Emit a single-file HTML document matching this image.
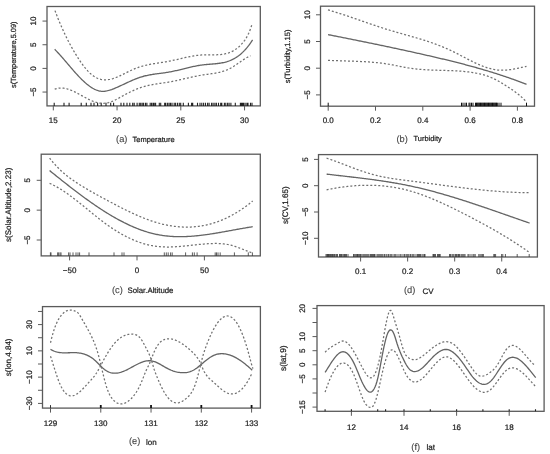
<!DOCTYPE html>
<html><head><meta charset="utf-8"><title>GAM smooth terms</title>
<style>
html,body{margin:0;padding:0;background:#fff;}
body{width:550px;height:454px;overflow:hidden;}
svg{display:block;}
text{font-family:"Liberation Sans",Arial,Helvetica,sans-serif;stroke:#222;stroke-width:0.22px;text-rendering:geometricPrecision;}
text.c{stroke:#444;stroke-width:0.12px;}
</style></head>
<body>
<svg width="550" height="454" viewBox="0 0 550 454">
<rect width="550" height="454" fill="#fff"/>
<rect x="47.00" y="6.50" width="213.30" height="99.40" fill="none" stroke="#5a5a5a" stroke-width="1.30"/>
<line x1="42.50" y1="21.07" x2="47.00" y2="21.07" stroke="#5a5a5a" stroke-width="1"/>
<text x="36.50" y="21.07" transform="rotate(-90 36.50 21.07)" text-anchor="middle" font-size="8.00" fill="#222">10</text>
<line x1="42.50" y1="44.74" x2="47.00" y2="44.74" stroke="#5a5a5a" stroke-width="1"/>
<text x="36.50" y="44.74" transform="rotate(-90 36.50 44.74)" text-anchor="middle" font-size="8.00" fill="#222">5</text>
<line x1="42.50" y1="68.40" x2="47.00" y2="68.40" stroke="#5a5a5a" stroke-width="1"/>
<text x="36.50" y="68.40" transform="rotate(-90 36.50 68.40)" text-anchor="middle" font-size="8.00" fill="#222">0</text>
<line x1="42.50" y1="92.06" x2="47.00" y2="92.06" stroke="#5a5a5a" stroke-width="1"/>
<text x="36.50" y="92.06" transform="rotate(-90 36.50 92.06)" text-anchor="middle" font-size="8.00" fill="#222">&#8722;5</text>
<line x1="53.30" y1="105.90" x2="53.30" y2="110.40" stroke="#5a5a5a" stroke-width="1"/>
<text x="53.30" y="123.20" text-anchor="middle" font-size="8.00" fill="#222">15</text>
<line x1="117.05" y1="105.90" x2="117.05" y2="110.40" stroke="#5a5a5a" stroke-width="1"/>
<text x="117.05" y="123.20" text-anchor="middle" font-size="8.00" fill="#222">20</text>
<line x1="180.80" y1="105.90" x2="180.80" y2="110.40" stroke="#5a5a5a" stroke-width="1"/>
<text x="180.80" y="123.20" text-anchor="middle" font-size="8.00" fill="#222">25</text>
<line x1="244.55" y1="105.90" x2="244.55" y2="110.40" stroke="#5a5a5a" stroke-width="1"/>
<text x="244.55" y="123.20" text-anchor="middle" font-size="8.00" fill="#222">30</text>
<path d="M54.20,102.70v3.20M64.00,102.70v3.20M69.10,102.70v3.20M81.20,102.70v3.20M86.30,102.70v3.20M91.00,102.70v3.20M94.00,102.70v3.20M97.60,102.70v3.20M101.20,102.70v3.20M106.00,102.70v3.20M110.70,102.70v3.20M113.60,102.70v3.20M121.00,102.70v3.20M123.80,102.70v3.20M127.00,102.70v3.20M129.80,102.70v3.20M132.70,102.70v3.20M134.20,102.70v3.20M137.10,102.70v3.20M139.30,102.70v3.20M140.70,102.70v3.20M142.20,102.70v3.20M143.60,102.70v3.20M145.50,102.70v3.20M146.90,102.70v3.20M150.20,102.70v3.20M151.60,102.70v3.20M153.10,102.70v3.20M154.20,102.70v3.20M155.60,102.70v3.20M159.30,102.70v3.20M160.70,102.70v3.20M164.70,102.70v3.20M165.80,102.70v3.20M167.60,102.70v3.20M169.10,102.70v3.20M170.50,102.70v3.20M172.00,102.70v3.20M174.20,102.70v3.20M175.60,102.70v3.20M177.50,102.70v3.20M179.30,102.70v3.20M180.70,102.70v3.20M183.30,102.70v3.20M188.40,102.70v3.20M191.60,102.70v3.20M192.70,102.70v3.20M197.50,102.70v3.20M200.00,102.70v3.20M201.80,102.70v3.20M203.60,102.70v3.20M205.50,102.70v3.20M207.60,102.70v3.20M209.10,102.70v3.20M211.60,102.70v3.20M213.10,102.70v3.20M214.90,102.70v3.20M216.40,102.70v3.20M218.50,102.70v3.20M220.70,102.70v3.20M221.80,102.70v3.20M224.40,102.70v3.20M225.80,102.70v3.20M227.60,102.70v3.20M229.10,102.70v3.20M230.90,102.70v3.20M235.30,102.70v3.20M240.40,102.70v3.20M241.20,102.70v3.20M242.00,102.70v3.20M242.80,102.70v3.20M243.60,102.70v3.20M245.10,102.70v3.20M246.90,102.70v3.20M248.00,102.70v3.20M250.50,102.70v3.20M252.00,102.70v3.20" stroke="#222" stroke-width="1.10" fill="none"/>
<path d="M54.70,49.30 L55.70,50.33 L56.70,51.37 L57.70,52.44 L58.70,53.52 L59.70,54.63 L60.70,55.75 L61.70,56.88 L62.70,58.02 L63.70,59.18 L64.69,60.34 L65.69,61.50 L66.69,62.68 L67.69,63.85 L68.69,65.02 L69.69,66.19 L70.69,67.36 L71.69,68.52 L72.69,69.68 L73.69,70.82 L74.69,71.96 L75.69,73.08 L76.69,74.18 L77.69,75.27 L78.69,76.34 L79.69,77.39 L80.69,78.42 L81.69,79.42 L82.69,80.39 L83.69,81.34 L84.68,82.25 L85.68,83.13 L86.68,83.98 L87.68,84.79 L88.68,85.57 L89.68,86.30 L90.68,86.99 L91.68,87.64 L92.68,88.24 L93.68,88.80 L94.68,89.30 L95.68,89.75 L96.68,90.15 L97.68,90.50 L98.68,90.78 L99.68,91.01 L100.68,91.18 L101.68,91.28 L102.68,91.32 L103.68,91.31 L104.67,91.24 L105.67,91.12 L106.67,90.95 L107.67,90.74 L108.67,90.49 L109.67,90.21 L110.67,89.89 L111.67,89.55 L112.67,89.17 L113.67,88.78 L114.67,88.37 L115.67,87.95 L116.67,87.52 L117.67,87.07 L118.67,86.62 L119.67,86.17 L120.67,85.71 L121.67,85.24 L122.67,84.77 L123.67,84.30 L124.66,83.83 L125.66,83.36 L126.66,82.89 L127.66,82.43 L128.66,81.97 L129.66,81.51 L130.66,81.06 L131.66,80.61 L132.66,80.18 L133.66,79.75 L134.66,79.34 L135.66,78.93 L136.66,78.54 L137.66,78.16 L138.66,77.80 L139.66,77.46 L140.66,77.13 L141.66,76.82 L142.66,76.52 L143.66,76.25 L144.65,75.99 L145.65,75.75 L146.65,75.52 L147.65,75.31 L148.65,75.11 L149.65,74.92 L150.65,74.74 L151.65,74.57 L152.65,74.41 L153.65,74.26 L154.65,74.11 L155.65,73.97 L156.65,73.84 L157.65,73.70 L158.65,73.57 L159.65,73.44 L160.65,73.31 L161.65,73.18 L162.65,73.05 L163.64,72.91 L164.64,72.77 L165.64,72.62 L166.64,72.47 L167.64,72.31 L168.64,72.15 L169.64,71.97 L170.64,71.78 L171.64,71.59 L172.64,71.39 L173.64,71.18 L174.64,70.96 L175.64,70.74 L176.64,70.51 L177.64,70.28 L178.64,70.05 L179.64,69.81 L180.64,69.57 L181.64,69.32 L182.64,69.08 L183.63,68.83 L184.63,68.59 L185.63,68.34 L186.63,68.10 L187.63,67.85 L188.63,67.62 L189.63,67.38 L190.63,67.15 L191.63,66.92 L192.63,66.70 L193.63,66.48 L194.63,66.27 L195.63,66.07 L196.63,65.87 L197.63,65.68 L198.63,65.51 L199.63,65.34 L200.63,65.18 L201.63,65.04 L202.63,64.90 L203.62,64.78 L204.62,64.67 L205.62,64.57 L206.62,64.48 L207.62,64.39 L208.62,64.31 L209.62,64.23 L210.62,64.16 L211.62,64.08 L212.62,64.00 L213.62,63.92 L214.62,63.83 L215.62,63.74 L216.62,63.63 L217.62,63.52 L218.62,63.40 L219.62,63.26 L220.62,63.10 L221.62,62.93 L222.62,62.74 L223.61,62.53 L224.61,62.30 L225.61,62.04 L226.61,61.76 L227.61,61.45 L228.61,61.11 L229.61,60.74 L230.61,60.34 L231.61,59.90 L232.61,59.43 L233.61,58.92 L234.61,58.37 L235.61,57.78 L236.61,57.15 L237.61,56.48 L238.61,55.76 L239.61,54.99 L240.61,54.17 L241.61,53.30 L242.61,52.38 L243.60,51.40 L244.60,50.37 L245.60,49.28 L246.60,48.13 L247.60,46.92 L248.60,45.65 L249.60,44.31 L250.60,42.91 L251.60,41.44 L252.60,39.90" fill="none" stroke="#646464" stroke-width="1.30"/>
<path d="M55.00,10.60 L56.00,13.27 L57.00,15.87 L58.00,18.40 L58.99,20.87 L59.99,23.27 L60.99,25.61 L61.99,27.89 L62.99,30.11 L63.99,32.27 L64.98,34.38 L65.98,36.44 L66.98,38.45 L67.98,40.42 L68.98,42.34 L69.98,44.21 L70.98,46.05 L71.97,47.85 L72.97,49.61 L73.97,51.33 L74.97,53.03 L75.97,54.68 L76.97,56.30 L77.96,57.88 L78.96,59.42 L79.96,60.92 L80.96,62.37 L81.96,63.77 L82.96,65.13 L83.96,66.44 L84.95,67.69 L85.95,68.89 L86.95,70.03 L87.95,71.12 L88.95,72.15 L89.95,73.12 L90.95,74.02 L91.94,74.86 L92.94,75.63 L93.94,76.34 L94.94,76.98 L95.94,77.54 L96.94,78.04 L97.93,78.47 L98.93,78.84 L99.93,79.14 L100.93,79.39 L101.93,79.58 L102.93,79.71 L103.93,79.80 L104.92,79.83 L105.92,79.81 L106.92,79.75 L107.92,79.64 L108.92,79.50 L109.92,79.31 L110.91,79.09 L111.91,78.83 L112.91,78.55 L113.91,78.23 L114.91,77.88 L115.91,77.51 L116.91,77.12 L117.90,76.70 L118.90,76.27 L119.90,75.82 L120.90,75.36 L121.90,74.88 L122.90,74.40 L123.89,73.91 L124.89,73.41 L125.89,72.92 L126.89,72.42 L127.89,71.92 L128.89,71.43 L129.89,70.94 L130.88,70.46 L131.88,70.00 L132.88,69.55 L133.88,69.11 L134.88,68.69 L135.88,68.29 L136.88,67.91 L137.87,67.55 L138.87,67.21 L139.87,66.88 L140.87,66.58 L141.87,66.28 L142.87,66.00 L143.86,65.74 L144.86,65.49 L145.86,65.25 L146.86,65.02 L147.86,64.80 L148.86,64.60 L149.86,64.40 L150.85,64.21 L151.85,64.03 L152.85,63.85 L153.85,63.68 L154.85,63.51 L155.85,63.35 L156.84,63.19 L157.84,63.04 L158.84,62.88 L159.84,62.73 L160.84,62.57 L161.84,62.42 L162.84,62.26 L163.83,62.10 L164.83,61.94 L165.83,61.77 L166.83,61.60 L167.83,61.42 L168.83,61.24 L169.82,61.05 L170.82,60.85 L171.82,60.64 L172.82,60.43 L173.82,60.21 L174.82,59.99 L175.82,59.77 L176.81,59.54 L177.81,59.31 L178.81,59.08 L179.81,58.85 L180.81,58.62 L181.81,58.38 L182.81,58.15 L183.80,57.92 L184.80,57.70 L185.80,57.48 L186.80,57.26 L187.80,57.04 L188.80,56.83 L189.79,56.63 L190.79,56.44 L191.79,56.25 L192.79,56.07 L193.79,55.90 L194.79,55.74 L195.79,55.58 L196.78,55.44 L197.78,55.31 L198.78,55.20 L199.78,55.10 L200.78,55.01 L201.78,54.93 L202.77,54.87 L203.77,54.83 L204.77,54.80 L205.77,54.78 L206.77,54.77 L207.77,54.77 L208.77,54.78 L209.76,54.78 L210.76,54.80 L211.76,54.81 L212.76,54.81 L213.76,54.82 L214.76,54.81 L215.75,54.80 L216.75,54.77 L217.75,54.73 L218.75,54.68 L219.75,54.61 L220.75,54.52 L221.75,54.40 L222.74,54.26 L223.74,54.10 L224.74,53.91 L225.74,53.68 L226.74,53.43 L227.74,53.13 L228.74,52.81 L229.73,52.44 L230.73,52.03 L231.73,51.58 L232.73,51.08 L233.73,50.53 L234.73,49.93 L235.72,49.27 L236.72,48.55 L237.72,47.77 L238.72,46.92 L239.72,46.01 L240.72,45.02 L241.72,43.95 L242.71,42.81 L243.71,41.59 L244.71,40.26 L245.71,38.81 L246.71,37.18 L247.71,35.36 L248.70,33.29 L249.70,30.94 L250.70,28.28 L251.70,25.26" fill="none" stroke="#707070" stroke-width="1.25" stroke-dasharray="2 2"/>
<path d="M54.70,89.20 L55.70,88.84 L56.70,88.55 L57.70,88.32 L58.70,88.15 L59.69,88.05 L60.69,88.00 L61.69,88.01 L62.69,88.06 L63.69,88.17 L64.69,88.32 L65.69,88.52 L66.69,88.76 L67.69,89.04 L68.69,89.35 L69.68,89.70 L70.68,90.08 L71.68,90.49 L72.68,90.93 L73.68,91.39 L74.68,91.86 L75.68,92.36 L76.68,92.87 L77.68,93.40 L78.68,93.94 L79.67,94.48 L80.67,95.03 L81.67,95.59 L82.67,96.14 L83.67,96.69 L84.67,97.24 L85.67,97.78 L86.67,98.31 L87.67,98.82 L88.67,99.32 L89.66,99.81 L90.66,100.27 L91.66,100.71 L92.66,101.12 L93.66,101.51 L94.66,101.86 L95.66,102.19 L96.66,102.47 L97.66,102.72 L98.66,102.93 L99.65,103.09 L100.65,103.21 L101.65,103.28 L102.65,103.30 L103.65,103.29 L104.65,103.22 L105.65,103.12 L106.65,102.97 L107.65,102.77 L108.64,102.54 L109.64,102.26 L110.64,101.93 L111.64,101.57 L112.64,101.17 L113.64,100.73 L114.64,100.27 L115.64,99.78 L116.64,99.26 L117.64,98.73 L118.63,98.19 L119.63,97.64 L120.63,97.08 L121.63,96.52 L122.63,95.96 L123.63,95.41 L124.63,94.87 L125.63,94.33 L126.63,93.80 L127.63,93.28 L128.62,92.77 L129.62,92.27 L130.62,91.78 L131.62,91.30 L132.62,90.83 L133.62,90.37 L134.62,89.93 L135.62,89.50 L136.62,89.09 L137.62,88.69 L138.61,88.31 L139.61,87.94 L140.61,87.59 L141.61,87.26 L142.61,86.95 L143.61,86.65 L144.61,86.37 L145.61,86.11 L146.61,85.85 L147.61,85.62 L148.60,85.39 L149.60,85.18 L150.60,84.98 L151.60,84.78 L152.60,84.60 L153.60,84.42 L154.60,84.26 L155.60,84.09 L156.60,83.93 L157.59,83.78 L158.59,83.63 L159.59,83.48 L160.59,83.34 L161.59,83.19 L162.59,83.04 L163.59,82.90 L164.59,82.75 L165.59,82.59 L166.59,82.44 L167.58,82.27 L168.58,82.11 L169.58,81.93 L170.58,81.75 L171.58,81.56 L172.58,81.36 L173.58,81.16 L174.58,80.96 L175.58,80.75 L176.58,80.53 L177.57,80.32 L178.57,80.09 L179.57,79.87 L180.57,79.64 L181.57,79.41 L182.57,79.18 L183.57,78.95 L184.57,78.72 L185.57,78.49 L186.57,78.26 L187.56,78.03 L188.56,77.80 L189.56,77.57 L190.56,77.34 L191.56,77.12 L192.56,76.90 L193.56,76.69 L194.56,76.47 L195.56,76.27 L196.56,76.06 L197.55,75.87 L198.55,75.68 L199.55,75.49 L200.55,75.32 L201.55,75.14 L202.55,74.98 L203.55,74.83 L204.55,74.68 L205.55,74.54 L206.54,74.40 L207.54,74.27 L208.54,74.14 L209.54,74.00 L210.54,73.87 L211.54,73.73 L212.54,73.58 L213.54,73.43 L214.54,73.27 L215.54,73.10 L216.53,72.92 L217.53,72.72 L218.53,72.51 L219.53,72.28 L220.53,72.03 L221.53,71.76 L222.53,71.47 L223.53,71.16 L224.53,70.82 L225.53,70.46 L226.52,70.07 L227.52,69.65 L228.52,69.19 L229.52,68.71 L230.52,68.18 L231.52,67.63 L232.52,67.04 L233.52,66.42 L234.52,65.77 L235.52,65.11 L236.51,64.43 L237.51,63.74 L238.51,63.05 L239.51,62.35 L240.51,61.66 L241.51,60.97 L242.51,60.29 L243.51,59.63 L244.51,58.99 L245.51,58.37 L246.50,57.78 L247.50,57.23 L248.50,56.71 L249.50,56.23 L250.50,55.80" fill="none" stroke="#707070" stroke-width="1.25" stroke-dasharray="2 2"/>
<text x="16.20" y="54.80" transform="rotate(-90 16.20 54.80)" text-anchor="middle" font-size="7.40" fill="#222">s(Temperature,5.09)</text>
<text class="c" x="116.10" y="141.60" font-size="9.30" fill="#444">(a)</text>
<text x="132.50" y="141.80" font-size="7.50" fill="#222">Temperature</text>
<rect x="320.50" y="6.20" width="214.00" height="100.00" fill="none" stroke="#5a5a5a" stroke-width="1.30"/>
<line x1="316.00" y1="14.80" x2="320.50" y2="14.80" stroke="#5a5a5a" stroke-width="1"/>
<text x="310.00" y="14.80" transform="rotate(-90 310.00 14.80)" text-anchor="middle" font-size="8.00" fill="#222">10</text>
<line x1="316.00" y1="41.50" x2="320.50" y2="41.50" stroke="#5a5a5a" stroke-width="1"/>
<text x="310.00" y="41.50" transform="rotate(-90 310.00 41.50)" text-anchor="middle" font-size="8.00" fill="#222">5</text>
<line x1="316.00" y1="68.20" x2="320.50" y2="68.20" stroke="#5a5a5a" stroke-width="1"/>
<text x="310.00" y="68.20" transform="rotate(-90 310.00 68.20)" text-anchor="middle" font-size="8.00" fill="#222">0</text>
<line x1="316.00" y1="94.90" x2="320.50" y2="94.90" stroke="#5a5a5a" stroke-width="1"/>
<text x="310.00" y="94.90" transform="rotate(-90 310.00 94.90)" text-anchor="middle" font-size="8.00" fill="#222">&#8722;5</text>
<line x1="328.20" y1="106.20" x2="328.20" y2="110.70" stroke="#5a5a5a" stroke-width="1"/>
<text x="328.20" y="123.20" text-anchor="middle" font-size="8.00" fill="#222">0.0</text>
<line x1="375.50" y1="106.20" x2="375.50" y2="110.70" stroke="#5a5a5a" stroke-width="1"/>
<text x="375.50" y="123.20" text-anchor="middle" font-size="8.00" fill="#222">0.2</text>
<line x1="422.80" y1="106.20" x2="422.80" y2="110.70" stroke="#5a5a5a" stroke-width="1"/>
<text x="422.80" y="123.20" text-anchor="middle" font-size="8.00" fill="#222">0.4</text>
<line x1="470.10" y1="106.20" x2="470.10" y2="110.70" stroke="#5a5a5a" stroke-width="1"/>
<text x="470.10" y="123.20" text-anchor="middle" font-size="8.00" fill="#222">0.6</text>
<line x1="517.40" y1="106.20" x2="517.40" y2="110.70" stroke="#5a5a5a" stroke-width="1"/>
<text x="517.40" y="123.20" text-anchor="middle" font-size="8.00" fill="#222">0.8</text>
<path d="M328.20,102.70v3.50M461.50,102.70v3.50M463.00,102.70v3.50M465.00,102.70v3.50M466.50,102.70v3.50M469.00,102.70v3.50M470.00,102.70v3.50M471.50,102.70v3.50M473.00,102.70v3.50M475.50,102.70v3.50M476.50,102.70v3.50M477.30,102.70v3.50M478.10,102.70v3.50M478.90,102.70v3.50M479.70,102.70v3.50M480.50,102.70v3.50M481.30,102.70v3.50M482.10,102.70v3.50M482.90,102.70v3.50M483.70,102.70v3.50M484.50,102.70v3.50M485.30,102.70v3.50M486.10,102.70v3.50M486.90,102.70v3.50M487.70,102.70v3.50M488.50,102.70v3.50M489.30,102.70v3.50M490.10,102.70v3.50M490.90,102.70v3.50M491.70,102.70v3.50M492.50,102.70v3.50M493.30,102.70v3.50M494.10,102.70v3.50M494.90,102.70v3.50M495.70,102.70v3.50M496.50,102.70v3.50M497.30,102.70v3.50M499.00,102.70v3.50M501.00,102.70v3.50M526.50,102.70v3.50" stroke="#111" stroke-width="1.00" fill="none"/>
<path d="M328.00,34.61 L329.00,34.80 L329.99,35.00 L330.99,35.20 L331.99,35.40 L332.99,35.59 L333.98,35.79 L334.98,35.99 L335.98,36.19 L336.98,36.38 L337.97,36.58 L338.97,36.78 L339.97,36.98 L340.97,37.18 L341.96,37.38 L342.96,37.58 L343.96,37.78 L344.96,37.98 L345.95,38.17 L346.95,38.37 L347.95,38.57 L348.95,38.77 L349.94,38.97 L350.94,39.18 L351.94,39.38 L352.94,39.58 L353.93,39.78 L354.93,39.98 L355.93,40.18 L356.93,40.38 L357.92,40.58 L358.92,40.79 L359.92,40.99 L360.92,41.19 L361.91,41.39 L362.91,41.60 L363.91,41.80 L364.91,42.00 L365.90,42.21 L366.90,42.41 L367.90,42.62 L368.90,42.82 L369.89,43.03 L370.89,43.23 L371.89,43.44 L372.89,43.64 L373.88,43.85 L374.88,44.05 L375.88,44.26 L376.88,44.47 L377.87,44.67 L378.87,44.88 L379.87,45.09 L380.87,45.30 L381.86,45.51 L382.86,45.71 L383.86,45.92 L384.86,46.13 L385.85,46.34 L386.85,46.55 L387.85,46.76 L388.85,46.97 L389.84,47.19 L390.84,47.40 L391.84,47.61 L392.84,47.82 L393.83,48.03 L394.83,48.25 L395.83,48.46 L396.83,48.67 L397.82,48.89 L398.82,49.10 L399.82,49.32 L400.82,49.53 L401.81,49.75 L402.81,49.96 L403.81,50.18 L404.81,50.40 L405.80,50.61 L406.80,50.83 L407.80,51.05 L408.80,51.27 L409.79,51.49 L410.79,51.71 L411.79,51.93 L412.79,52.15 L413.78,52.37 L414.78,52.59 L415.78,52.81 L416.78,53.03 L417.77,53.26 L418.77,53.48 L419.77,53.70 L420.77,53.93 L421.76,54.15 L422.76,54.38 L423.76,54.60 L424.76,54.83 L425.75,55.06 L426.75,55.28 L427.75,55.51 L428.75,55.74 L429.74,55.97 L430.74,56.20 L431.74,56.43 L432.74,56.66 L433.73,56.89 L434.73,57.12 L435.73,57.35 L436.73,57.59 L437.72,57.82 L438.72,58.06 L439.72,58.29 L440.72,58.53 L441.71,58.76 L442.71,59.00 L443.71,59.24 L444.71,59.48 L445.70,59.72 L446.70,59.96 L447.70,60.20 L448.70,60.45 L449.69,60.69 L450.69,60.94 L451.69,61.18 L452.69,61.43 L453.68,61.68 L454.68,61.93 L455.68,62.18 L456.68,62.43 L457.67,62.69 L458.67,62.94 L459.67,63.20 L460.67,63.45 L461.66,63.71 L462.66,63.97 L463.66,64.23 L464.66,64.49 L465.65,64.76 L466.65,65.02 L467.65,65.29 L468.65,65.56 L469.64,65.83 L470.64,66.10 L471.64,66.37 L472.64,66.64 L473.63,66.92 L474.63,67.19 L475.63,67.47 L476.63,67.75 L477.62,68.04 L478.62,68.32 L479.62,68.60 L480.62,68.89 L481.61,69.18 L482.61,69.47 L483.61,69.76 L484.61,70.06 L485.60,70.35 L486.60,70.65 L487.60,70.95 L488.60,71.25 L489.59,71.56 L490.59,71.86 L491.59,72.17 L492.59,72.48 L493.58,72.79 L494.58,73.10 L495.58,73.42 L496.58,73.74 L497.57,74.06 L498.57,74.38 L499.57,74.70 L500.57,75.03 L501.56,75.36 L502.56,75.69 L503.56,76.02 L504.56,76.36 L505.55,76.69 L506.55,77.03 L507.55,77.37 L508.55,77.72 L509.54,78.07 L510.54,78.42 L511.54,78.77 L512.54,79.12 L513.53,79.48 L514.53,79.84 L515.53,80.20 L516.53,80.56 L517.52,80.93 L518.52,81.30 L519.52,81.67 L520.52,82.05 L521.51,82.43 L522.51,82.81 L523.51,83.19 L524.51,83.57 L525.50,83.96 L526.50,84.35" fill="none" stroke="#646464" stroke-width="1.30"/>
<path d="M328.00,9.88 L329.00,10.17 L329.99,10.46 L330.99,10.76 L331.99,11.05 L332.99,11.36 L333.98,11.66 L334.98,11.97 L335.98,12.28 L336.98,12.59 L337.97,12.91 L338.97,13.23 L339.97,13.55 L340.97,13.87 L341.96,14.20 L342.96,14.53 L343.96,14.86 L344.96,15.19 L345.95,15.52 L346.95,15.86 L347.95,16.19 L348.95,16.53 L349.94,16.87 L350.94,17.21 L351.94,17.55 L352.94,17.89 L353.93,18.24 L354.93,18.58 L355.93,18.93 L356.93,19.27 L357.92,19.62 L358.92,19.96 L359.92,20.31 L360.92,20.66 L361.91,21.00 L362.91,21.35 L363.91,21.70 L364.91,22.04 L365.90,22.39 L366.90,22.73 L367.90,23.08 L368.90,23.42 L369.89,23.76 L370.89,24.11 L371.89,24.45 L372.89,24.79 L373.88,25.12 L374.88,25.46 L375.88,25.80 L376.88,26.13 L377.87,26.46 L378.87,26.79 L379.87,27.12 L380.87,27.44 L381.86,27.77 L382.86,28.09 L383.86,28.41 L384.86,28.72 L385.85,29.04 L386.85,29.35 L387.85,29.66 L388.85,29.96 L389.84,30.26 L390.84,30.56 L391.84,30.86 L392.84,31.16 L393.83,31.45 L394.83,31.74 L395.83,32.03 L396.83,32.32 L397.82,32.60 L398.82,32.89 L399.82,33.17 L400.82,33.45 L401.81,33.74 L402.81,34.02 L403.81,34.30 L404.81,34.58 L405.80,34.86 L406.80,35.14 L407.80,35.43 L408.80,35.71 L409.79,35.99 L410.79,36.27 L411.79,36.56 L412.79,36.85 L413.78,37.13 L414.78,37.42 L415.78,37.71 L416.78,38.01 L417.77,38.30 L418.77,38.60 L419.77,38.90 L420.77,39.20 L421.76,39.51 L422.76,39.82 L423.76,40.13 L424.76,40.45 L425.75,40.77 L426.75,41.09 L427.75,41.41 L428.75,41.75 L429.74,42.08 L430.74,42.42 L431.74,42.76 L432.74,43.11 L433.73,43.47 L434.73,43.83 L435.73,44.19 L436.73,44.56 L437.72,44.94 L438.72,45.32 L439.72,45.71 L440.72,46.10 L441.71,46.50 L442.71,46.91 L443.71,47.32 L444.71,47.74 L445.70,48.17 L446.70,48.60 L447.70,49.05 L448.70,49.50 L449.69,49.96 L450.69,50.42 L451.69,50.90 L452.69,51.38 L453.68,51.87 L454.68,52.36 L455.68,52.87 L456.68,53.37 L457.67,53.89 L458.67,54.40 L459.67,54.92 L460.67,55.44 L461.66,55.97 L462.66,56.49 L463.66,57.01 L464.66,57.54 L465.65,58.06 L466.65,58.58 L467.65,59.10 L468.65,59.62 L469.64,60.13 L470.64,60.63 L471.64,61.14 L472.64,61.63 L473.63,62.12 L474.63,62.60 L475.63,63.07 L476.63,63.54 L477.62,63.99 L478.62,64.44 L479.62,64.87 L480.62,65.29 L481.61,65.70 L482.61,66.10 L483.61,66.48 L484.61,66.85 L485.60,67.20 L486.60,67.54 L487.60,67.86 L488.60,68.17 L489.59,68.45 L490.59,68.72 L491.59,68.97 L492.59,69.19 L493.58,69.40 L494.58,69.59 L495.58,69.75 L496.58,69.89 L497.57,70.01 L498.57,70.10 L499.57,70.17 L500.57,70.21 L501.56,70.23 L502.56,70.24 L503.56,70.22 L504.56,70.18 L505.55,70.12 L506.55,70.05 L507.55,69.96 L508.55,69.85 L509.54,69.73 L510.54,69.60 L511.54,69.45 L512.54,69.29 L513.53,69.12 L514.53,68.94 L515.53,68.75 L516.53,68.55 L517.52,68.34 L518.52,68.13 L519.52,67.91 L520.52,67.69 L521.51,67.47 L522.51,67.24 L523.51,67.01 L524.51,66.78 L525.50,66.55 L526.50,66.32" fill="none" stroke="#707070" stroke-width="1.25" stroke-dasharray="2 2"/>
<path d="M328.00,60.30 L329.00,60.35 L330.00,60.41 L330.99,60.45 L331.99,60.50 L332.99,60.55 L333.99,60.59 L334.99,60.63 L335.98,60.67 L336.98,60.71 L337.98,60.74 L338.98,60.78 L339.98,60.81 L340.97,60.84 L341.97,60.87 L342.97,60.91 L343.97,60.94 L344.97,60.97 L345.96,61.00 L346.96,61.02 L347.96,61.05 L348.96,61.08 L349.96,61.11 L350.95,61.15 L351.95,61.18 L352.95,61.21 L353.95,61.24 L354.95,61.28 L355.94,61.31 L356.94,61.35 L357.94,61.39 L358.94,61.43 L359.94,61.47 L360.93,61.52 L361.93,61.56 L362.93,61.61 L363.93,61.66 L364.93,61.72 L365.92,61.78 L366.92,61.84 L367.92,61.90 L368.92,61.97 L369.92,62.04 L370.91,62.11 L371.91,62.19 L372.91,62.27 L373.91,62.36 L374.91,62.45 L375.90,62.54 L376.90,62.64 L377.90,62.75 L378.90,62.86 L379.89,62.97 L380.89,63.09 L381.89,63.21 L382.89,63.34 L383.89,63.48 L384.88,63.62 L385.88,63.77 L386.88,63.92 L387.88,64.08 L388.88,64.25 L389.87,64.42 L390.87,64.60 L391.87,64.78 L392.87,64.97 L393.87,65.16 L394.86,65.35 L395.86,65.54 L396.86,65.74 L397.86,65.94 L398.86,66.14 L399.85,66.33 L400.85,66.53 L401.85,66.72 L402.85,66.92 L403.85,67.11 L404.84,67.29 L405.84,67.48 L406.84,67.66 L407.84,67.83 L408.84,68.00 L409.83,68.16 L410.83,68.31 L411.83,68.46 L412.83,68.59 L413.83,68.72 L414.82,68.85 L415.82,68.96 L416.82,69.07 L417.82,69.17 L418.82,69.27 L419.81,69.36 L420.81,69.45 L421.81,69.53 L422.81,69.60 L423.81,69.67 L424.80,69.73 L425.80,69.79 L426.80,69.85 L427.80,69.90 L428.80,69.95 L429.79,70.00 L430.79,70.04 L431.79,70.08 L432.79,70.11 L433.79,70.15 L434.78,70.18 L435.78,70.21 L436.78,70.24 L437.78,70.27 L438.78,70.30 L439.77,70.32 L440.77,70.35 L441.77,70.37 L442.77,70.40 L443.77,70.43 L444.76,70.45 L445.76,70.48 L446.76,70.51 L447.76,70.54 L448.76,70.57 L449.75,70.61 L450.75,70.64 L451.75,70.68 L452.75,70.73 L453.75,70.77 L454.74,70.82 L455.74,70.87 L456.74,70.93 L457.74,70.99 L458.74,71.05 L459.73,71.12 L460.73,71.19 L461.73,71.27 L462.73,71.35 L463.73,71.44 L464.72,71.54 L465.72,71.64 L466.72,71.75 L467.72,71.87 L468.72,71.99 L469.71,72.12 L470.71,72.25 L471.71,72.40 L472.71,72.55 L473.71,72.71 L474.70,72.88 L475.70,73.06 L476.70,73.25 L477.70,73.45 L478.69,73.66 L479.69,73.88 L480.69,74.12 L481.69,74.37 L482.69,74.63 L483.68,74.90 L484.68,75.19 L485.68,75.50 L486.68,75.83 L487.68,76.17 L488.67,76.53 L489.67,76.91 L490.67,77.31 L491.67,77.73 L492.67,78.17 L493.66,78.63 L494.66,79.12 L495.66,79.62 L496.66,80.15 L497.66,80.69 L498.65,81.25 L499.65,81.83 L500.65,82.42 L501.65,83.02 L502.65,83.63 L503.64,84.25 L504.64,84.87 L505.64,85.50 L506.64,86.13 L507.64,86.77 L508.63,87.41 L509.63,88.06 L510.63,88.71 L511.63,89.38 L512.63,90.07 L513.62,90.76 L514.62,91.48 L515.62,92.21 L516.62,92.97 L517.62,93.74 L518.61,94.55 L519.61,95.38 L520.61,96.23 L521.61,97.12 L522.61,98.04 L523.60,99.00 L524.60,99.99 L525.60,101.03" fill="none" stroke="#707070" stroke-width="1.25" stroke-dasharray="2 2"/>
<text x="289.80" y="56.40" transform="rotate(-90 289.80 56.40)" text-anchor="middle" font-size="7.55" fill="#222">s(Turbidity,1.15)</text>
<text class="c" x="396.50" y="142.30" font-size="9.30" fill="#444">(b)</text>
<text x="413.60" y="141.40" font-size="7.40" fill="#222">Turbidity</text>
<rect x="41.20" y="154.20" width="219.10" height="101.70" fill="none" stroke="#5a5a5a" stroke-width="1.30"/>
<line x1="36.70" y1="180.30" x2="41.20" y2="180.30" stroke="#5a5a5a" stroke-width="1"/>
<text x="30.30" y="180.30" transform="rotate(-90 30.30 180.30)" text-anchor="middle" font-size="8.00" fill="#222">5</text>
<line x1="36.70" y1="210.15" x2="41.20" y2="210.15" stroke="#5a5a5a" stroke-width="1"/>
<text x="30.30" y="210.15" transform="rotate(-90 30.30 210.15)" text-anchor="middle" font-size="8.00" fill="#222">0</text>
<line x1="36.70" y1="240.00" x2="41.20" y2="240.00" stroke="#5a5a5a" stroke-width="1"/>
<text x="30.30" y="240.00" transform="rotate(-90 30.30 240.00)" text-anchor="middle" font-size="8.00" fill="#222">&#8722;5</text>
<line x1="69.60" y1="255.90" x2="69.60" y2="260.40" stroke="#5a5a5a" stroke-width="1"/>
<text x="69.60" y="273.20" text-anchor="middle" font-size="8.00" fill="#222">&#8722;50</text>
<line x1="137.00" y1="255.90" x2="137.00" y2="260.40" stroke="#5a5a5a" stroke-width="1"/>
<text x="137.00" y="273.20" text-anchor="middle" font-size="8.00" fill="#222">0</text>
<line x1="204.40" y1="255.90" x2="204.40" y2="260.40" stroke="#5a5a5a" stroke-width="1"/>
<text x="204.40" y="273.20" text-anchor="middle" font-size="8.00" fill="#222">50</text>
<path d="M50.40,252.40v3.50M51.00,252.40v3.50M57.60,252.40v3.50M58.60,252.40v3.50M60.00,252.40v3.50M61.00,252.40v3.50M68.60,252.40v3.50M70.00,252.40v3.50M73.00,252.40v3.50M76.00,252.40v3.50M78.00,252.40v3.50M79.60,252.40v3.50M89.00,252.40v3.50M114.00,252.40v3.50M122.00,252.40v3.50M124.00,252.40v3.50M164.30,252.40v3.50M166.30,252.40v3.50M168.20,252.40v3.50M170.60,252.40v3.50M172.20,252.40v3.50M185.60,252.40v3.50M192.40,252.40v3.50M194.30,252.40v3.50M197.10,252.40v3.50M215.20,252.40v3.50M216.50,252.40v3.50M218.00,252.40v3.50M220.20,252.40v3.50M234.40,252.40v3.50M248.30,252.40v3.50M252.40,252.40v3.50" stroke="#333" stroke-width="0.80" fill="none"/>
<path d="M49.60,170.57 L50.60,171.37 L51.59,172.18 L52.59,172.98 L53.58,173.78 L54.58,174.58 L55.57,175.38 L56.57,176.18 L57.56,176.98 L58.56,177.78 L59.56,178.57 L60.55,179.36 L61.55,180.16 L62.54,180.95 L63.54,181.73 L64.53,182.52 L65.53,183.30 L66.53,184.09 L67.52,184.87 L68.52,185.64 L69.51,186.42 L70.51,187.19 L71.50,187.96 L72.50,188.73 L73.49,189.50 L74.49,190.26 L75.49,191.02 L76.48,191.77 L77.48,192.53 L78.47,193.28 L79.47,194.02 L80.46,194.77 L81.46,195.51 L82.45,196.24 L83.45,196.97 L84.45,197.70 L85.44,198.43 L86.44,199.15 L87.43,199.86 L88.43,200.58 L89.42,201.29 L90.42,201.99 L91.41,202.69 L92.41,203.39 L93.41,204.08 L94.40,204.76 L95.40,205.44 L96.39,206.12 L97.39,206.79 L98.38,207.46 L99.38,208.12 L100.38,208.77 L101.37,209.43 L102.37,210.07 L103.36,210.71 L104.36,211.34 L105.35,211.97 L106.35,212.60 L107.34,213.21 L108.34,213.82 L109.34,214.43 L110.33,215.03 L111.33,215.62 L112.32,216.20 L113.32,216.78 L114.31,217.36 L115.31,217.92 L116.30,218.48 L117.30,219.04 L118.30,219.58 L119.29,220.12 L120.29,220.65 L121.28,221.18 L122.28,221.69 L123.27,222.20 L124.27,222.71 L125.26,223.20 L126.26,223.69 L127.26,224.17 L128.25,224.64 L129.25,225.11 L130.24,225.56 L131.24,226.01 L132.23,226.45 L133.23,226.88 L134.22,227.30 L135.22,227.72 L136.22,228.12 L137.21,228.52 L138.21,228.91 L139.20,229.29 L140.20,229.66 L141.19,230.02 L142.19,230.37 L143.19,230.72 L144.18,231.05 L145.18,231.38 L146.17,231.69 L147.17,232.00 L148.16,232.29 L149.16,232.58 L150.15,232.85 L151.15,233.12 L152.15,233.38 L153.14,233.62 L154.14,233.86 L155.13,234.09 L156.13,234.30 L157.12,234.51 L158.12,234.70 L159.11,234.88 L160.11,235.06 L161.11,235.22 L162.10,235.38 L163.10,235.52 L164.09,235.66 L165.09,235.79 L166.08,235.91 L167.08,236.01 L168.08,236.11 L169.07,236.20 L170.07,236.29 L171.06,236.36 L172.06,236.43 L173.05,236.48 L174.05,236.53 L175.04,236.58 L176.04,236.61 L177.04,236.64 L178.03,236.66 L179.03,236.67 L180.02,236.67 L181.02,236.67 L182.01,236.66 L183.01,236.64 L184.00,236.62 L185.00,236.59 L186.00,236.55 L186.99,236.51 L187.99,236.46 L188.98,236.41 L189.98,236.35 L190.97,236.28 L191.97,236.21 L192.96,236.13 L193.96,236.05 L194.96,235.96 L195.95,235.87 L196.95,235.77 L197.94,235.67 L198.94,235.56 L199.93,235.45 L200.93,235.33 L201.92,235.22 L202.92,235.09 L203.92,234.96 L204.91,234.83 L205.91,234.70 L206.90,234.56 L207.90,234.41 L208.89,234.27 L209.89,234.12 L210.89,233.97 L211.88,233.81 L212.88,233.66 L213.87,233.50 L214.87,233.34 L215.86,233.17 L216.86,233.00 L217.85,232.84 L218.85,232.66 L219.85,232.49 L220.84,232.32 L221.84,232.14 L222.83,231.97 L223.83,231.79 L224.82,231.61 L225.82,231.43 L226.81,231.25 L227.81,231.07 L228.81,230.89 L229.80,230.70 L230.80,230.52 L231.79,230.34 L232.79,230.16 L233.78,229.97 L234.78,229.79 L235.78,229.61 L236.77,229.43 L237.77,229.25 L238.76,229.07 L239.76,228.89 L240.75,228.71 L241.75,228.54 L242.74,228.36 L243.74,228.19 L244.74,228.02 L245.73,227.85 L246.73,227.68 L247.72,227.51 L248.72,227.35 L249.71,227.19 L250.71,227.03 L251.70,226.87 L252.70,226.72" fill="none" stroke="#646464" stroke-width="1.30"/>
<path d="M49.60,158.09 L50.60,159.37 L51.59,160.60 L52.59,161.80 L53.58,162.97 L54.58,164.10 L55.57,165.20 L56.57,166.27 L57.56,167.31 L58.56,168.31 L59.56,169.29 L60.55,170.25 L61.55,171.17 L62.54,172.07 L63.54,172.95 L64.53,173.80 L65.53,174.63 L66.53,175.44 L67.52,176.23 L68.52,177.00 L69.51,177.75 L70.51,178.49 L71.50,179.21 L72.50,179.92 L73.49,180.61 L74.49,181.29 L75.49,181.96 L76.48,182.61 L77.48,183.26 L78.47,183.90 L79.47,184.54 L80.46,185.16 L81.46,185.78 L82.45,186.40 L83.45,187.00 L84.45,187.61 L85.44,188.20 L86.44,188.80 L87.43,189.38 L88.43,189.96 L89.42,190.54 L90.42,191.12 L91.41,191.68 L92.41,192.25 L93.41,192.81 L94.40,193.37 L95.40,193.92 L96.39,194.48 L97.39,195.02 L98.38,195.57 L99.38,196.11 L100.38,196.66 L101.37,197.20 L102.37,197.73 L103.36,198.27 L104.36,198.81 L105.35,199.34 L106.35,199.87 L107.34,200.41 L108.34,200.94 L109.34,201.47 L110.33,202.00 L111.33,202.53 L112.32,203.06 L113.32,203.58 L114.31,204.11 L115.31,204.63 L116.30,205.15 L117.30,205.67 L118.30,206.19 L119.29,206.70 L120.29,207.21 L121.28,207.72 L122.28,208.23 L123.27,208.73 L124.27,209.23 L125.26,209.72 L126.26,210.21 L127.26,210.70 L128.25,211.18 L129.25,211.66 L130.24,212.14 L131.24,212.61 L132.23,213.07 L133.23,213.53 L134.22,213.99 L135.22,214.44 L136.22,214.88 L137.21,215.32 L138.21,215.76 L139.20,216.19 L140.20,216.61 L141.19,217.02 L142.19,217.43 L143.19,217.84 L144.18,218.23 L145.18,218.62 L146.17,219.00 L147.17,219.38 L148.16,219.75 L149.16,220.10 L150.15,220.46 L151.15,220.80 L152.15,221.14 L153.14,221.47 L154.14,221.79 L155.13,222.10 L156.13,222.40 L157.12,222.69 L158.12,222.98 L159.11,223.25 L160.11,223.52 L161.11,223.78 L162.10,224.03 L163.10,224.27 L164.09,224.50 L165.09,224.72 L166.08,224.93 L167.08,225.13 L168.08,225.32 L169.07,225.51 L170.07,225.68 L171.06,225.84 L172.06,226.00 L173.05,226.14 L174.05,226.28 L175.04,226.40 L176.04,226.52 L177.04,226.62 L178.03,226.72 L179.03,226.80 L180.02,226.87 L181.02,226.94 L182.01,226.99 L183.01,227.04 L184.00,227.07 L185.00,227.09 L186.00,227.11 L186.99,227.11 L187.99,227.10 L188.98,227.08 L189.98,227.05 L190.97,227.01 L191.97,226.96 L192.96,226.89 L193.96,226.82 L194.96,226.74 L195.95,226.64 L196.95,226.53 L197.94,226.41 L198.94,226.28 L199.93,226.14 L200.93,225.99 L201.92,225.83 L202.92,225.65 L203.92,225.47 L204.91,225.27 L205.91,225.06 L206.90,224.84 L207.90,224.60 L208.89,224.36 L209.89,224.10 L210.89,223.83 L211.88,223.55 L212.88,223.26 L213.87,222.95 L214.87,222.64 L215.86,222.31 L216.86,221.96 L217.85,221.61 L218.85,221.24 L219.85,220.86 L220.84,220.47 L221.84,220.07 L222.83,219.65 L223.83,219.22 L224.82,218.78 L225.82,218.32 L226.81,217.86 L227.81,217.37 L228.81,216.88 L229.80,216.37 L230.80,215.85 L231.79,215.32 L232.79,214.77 L233.78,214.21 L234.78,213.64 L235.78,213.05 L236.77,212.45 L237.77,211.84 L238.76,211.21 L239.76,210.57 L240.75,209.92 L241.75,209.25 L242.74,208.57 L243.74,207.87 L244.74,207.16 L245.73,206.44 L246.73,205.70 L247.72,204.95 L248.72,204.18 L249.71,203.40 L250.71,202.61 L251.70,201.80 L252.70,200.98" fill="none" stroke="#707070" stroke-width="1.25" stroke-dasharray="2 2"/>
<path d="M49.60,183.32 L50.60,183.76 L51.59,184.22 L52.59,184.70 L53.58,185.20 L54.58,185.71 L55.57,186.25 L56.57,186.80 L57.56,187.36 L58.56,187.94 L59.56,188.54 L60.55,189.15 L61.55,189.78 L62.54,190.42 L63.54,191.07 L64.53,191.74 L65.53,192.42 L66.53,193.11 L67.52,193.81 L68.52,194.52 L69.51,195.24 L70.51,195.97 L71.50,196.71 L72.50,197.46 L73.49,198.22 L74.49,198.98 L75.49,199.75 L76.48,200.53 L77.48,201.31 L78.47,202.10 L79.47,202.90 L80.46,203.69 L81.46,204.49 L82.45,205.30 L83.45,206.11 L84.45,206.92 L85.44,207.73 L86.44,208.54 L87.43,209.36 L88.43,210.17 L89.42,210.98 L90.42,211.80 L91.41,212.61 L92.41,213.42 L93.41,214.22 L94.40,215.03 L95.40,215.83 L96.39,216.62 L97.39,217.41 L98.38,218.20 L99.38,218.98 L100.38,219.75 L101.37,220.52 L102.37,221.28 L103.36,222.03 L104.36,222.78 L105.35,223.52 L106.35,224.24 L107.34,224.96 L108.34,225.66 L109.34,226.36 L110.33,227.05 L111.33,227.72 L112.32,228.39 L113.32,229.04 L114.31,229.69 L115.31,230.32 L116.30,230.95 L117.30,231.56 L118.30,232.16 L119.29,232.75 L120.29,233.33 L121.28,233.90 L122.28,234.46 L123.27,235.01 L124.27,235.55 L125.26,236.07 L126.26,236.58 L127.26,237.09 L128.25,237.58 L129.25,238.05 L130.24,238.52 L131.24,238.98 L132.23,239.42 L133.23,239.85 L134.22,240.27 L135.22,240.68 L136.22,241.07 L137.21,241.46 L138.21,241.83 L139.20,242.19 L140.20,242.53 L141.19,242.87 L142.19,243.19 L143.19,243.50 L144.18,243.79 L145.18,244.07 L146.17,244.34 L147.17,244.60 L148.16,244.85 L149.16,245.08 L150.15,245.29 L151.15,245.50 L152.15,245.69 L153.14,245.87 L154.14,246.03 L155.13,246.18 L156.13,246.32 L157.12,246.44 L158.12,246.55 L159.11,246.65 L160.11,246.73 L161.11,246.81 L162.10,246.87 L163.10,246.92 L164.09,246.96 L165.09,246.99 L166.08,247.01 L167.08,247.02 L168.08,247.02 L169.07,247.01 L170.07,246.99 L171.06,246.97 L172.06,246.94 L173.05,246.90 L174.05,246.85 L175.04,246.79 L176.04,246.73 L177.04,246.67 L178.03,246.60 L179.03,246.52 L180.02,246.44 L181.02,246.35 L182.01,246.26 L183.01,246.17 L184.00,246.07 L185.00,245.97 L186.00,245.87 L186.99,245.76 L187.99,245.65 L188.98,245.55 L189.98,245.44 L190.97,245.33 L191.97,245.22 L192.96,245.11 L193.96,245.00 L194.96,244.89 L195.95,244.78 L196.95,244.68 L197.94,244.57 L198.94,244.47 L199.93,244.37 L200.93,244.28 L201.92,244.18 L202.92,244.10 L203.92,244.01 L204.91,243.93 L205.91,243.86 L206.90,243.79 L207.90,243.73 L208.89,243.67 L209.89,243.62 L210.89,243.57 L211.88,243.54 L212.88,243.51 L213.87,243.49 L214.87,243.47 L215.86,243.47 L216.86,243.48 L217.85,243.50 L218.85,243.53 L219.85,243.57 L220.84,243.63 L221.84,243.70 L222.83,243.79 L223.83,243.89 L224.82,244.02 L225.82,244.16 L226.81,244.32 L227.81,244.50 L228.81,244.71 L229.80,244.93 L230.80,245.17 L231.79,245.43 L232.79,245.72 L233.78,246.01 L234.78,246.33 L235.78,246.66 L236.77,247.01 L237.77,247.36 L238.76,247.73 L239.76,248.11 L240.75,248.49 L241.75,248.88 L242.74,249.28 L243.74,249.67 L244.74,250.07 L245.73,250.47 L246.73,250.86 L247.72,251.25 L248.72,251.64 L249.71,252.02 L250.71,252.39 L251.70,252.75 L252.70,253.10" fill="none" stroke="#707070" stroke-width="1.25" stroke-dasharray="2 2"/>
<text x="11.00" y="204.80" transform="rotate(-90 11.00 204.80)" text-anchor="middle" font-size="8.00" fill="#222">s(Solar.Altitude,2.23)</text>
<text class="c" x="112.00" y="293.30" font-size="9.30" fill="#444">(c)</text>
<text x="127.50" y="292.70" font-size="7.80" fill="#222">Solar.Altitude</text>
<rect x="318.50" y="154.60" width="218.90" height="102.40" fill="none" stroke="#5a5a5a" stroke-width="1.30"/>
<line x1="314.00" y1="159.40" x2="318.50" y2="159.40" stroke="#5a5a5a" stroke-width="1"/>
<text x="307.90" y="159.40" transform="rotate(-90 307.90 159.40)" text-anchor="middle" font-size="8.00" fill="#222">5</text>
<line x1="314.00" y1="185.70" x2="318.50" y2="185.70" stroke="#5a5a5a" stroke-width="1"/>
<text x="307.90" y="185.70" transform="rotate(-90 307.90 185.70)" text-anchor="middle" font-size="8.00" fill="#222">0</text>
<line x1="314.00" y1="212.00" x2="318.50" y2="212.00" stroke="#5a5a5a" stroke-width="1"/>
<text x="307.90" y="212.00" transform="rotate(-90 307.90 212.00)" text-anchor="middle" font-size="8.00" fill="#222">&#8722;5</text>
<line x1="314.00" y1="238.30" x2="318.50" y2="238.30" stroke="#5a5a5a" stroke-width="1"/>
<text x="307.90" y="238.30" transform="rotate(-90 307.90 238.30)" text-anchor="middle" font-size="8.00" fill="#222">&#8722;10</text>
<line x1="360.60" y1="257.00" x2="360.60" y2="261.50" stroke="#5a5a5a" stroke-width="1"/>
<text x="360.60" y="274.30" text-anchor="middle" font-size="8.00" fill="#222">0.1</text>
<line x1="407.64" y1="257.00" x2="407.64" y2="261.50" stroke="#5a5a5a" stroke-width="1"/>
<text x="407.64" y="274.30" text-anchor="middle" font-size="8.00" fill="#222">0.2</text>
<line x1="454.68" y1="257.00" x2="454.68" y2="261.50" stroke="#5a5a5a" stroke-width="1"/>
<text x="454.68" y="274.30" text-anchor="middle" font-size="8.00" fill="#222">0.3</text>
<line x1="501.72" y1="257.00" x2="501.72" y2="261.50" stroke="#5a5a5a" stroke-width="1"/>
<text x="501.72" y="274.30" text-anchor="middle" font-size="8.00" fill="#222">0.4</text>
<path d="M326.00,254.00v3.00M326.80,254.00v3.00M327.50,254.00v3.00M328.00,254.00v3.00M328.50,254.00v3.00M329.20,254.00v3.00M329.80,254.00v3.00M330.50,254.00v3.00M331.50,254.00v3.00M332.50,254.00v3.00M333.00,254.00v3.00M333.80,254.00v3.00M334.50,254.00v3.00M335.80,254.00v3.00M336.60,254.00v3.00M337.50,254.00v3.00M339.50,254.00v3.00M340.20,254.00v3.00M340.80,254.00v3.00M341.50,254.00v3.00M342.80,254.00v3.00M343.80,254.00v3.00M344.50,254.00v3.00M345.50,254.00v3.00M346.50,254.00v3.00M348.00,254.00v3.00M353.50,254.00v3.00M354.20,254.00v3.00M355.20,254.00v3.00M356.20,254.00v3.00M357.00,254.00v3.00M357.50,254.00v3.00M358.20,254.00v3.00M359.00,254.00v3.00M359.80,254.00v3.00M360.50,254.00v3.00M361.80,254.00v3.00M363.00,254.00v3.00M364.00,254.00v3.00M365.00,254.00v3.00M366.00,254.00v3.00M367.00,254.00v3.00M368.00,254.00v3.00M369.00,254.00v3.00M370.50,254.00v3.00M371.50,254.00v3.00M372.50,254.00v3.00M373.50,254.00v3.00M374.50,254.00v3.00M375.00,254.00v3.00M377.00,254.00v3.00M378.00,254.00v3.00M379.00,254.00v3.00M380.00,254.00v3.00M381.00,254.00v3.00M382.00,254.00v3.00M383.00,254.00v3.00M384.50,254.00v3.00M386.00,254.00v3.00M387.00,254.00v3.00M388.50,254.00v3.00M390.00,254.00v3.00M391.00,254.00v3.00M392.00,254.00v3.00M394.00,254.00v3.00M395.00,254.00v3.00M396.00,254.00v3.00M398.00,254.00v3.00M400.00,254.00v3.00M401.00,254.00v3.00M403.00,254.00v3.00M404.50,254.00v3.00M406.00,254.00v3.00M407.00,254.00v3.00M408.00,254.00v3.00M409.00,254.00v3.00M410.50,254.00v3.00M412.00,254.00v3.00M413.00,254.00v3.00M414.00,254.00v3.00M416.00,254.00v3.00M417.50,254.00v3.00M418.50,254.00v3.00M419.50,254.00v3.00M420.50,254.00v3.00M422.00,254.00v3.00M423.20,254.00v3.00M424.50,254.00v3.00M425.00,254.00v3.00M433.00,254.00v3.00M433.50,254.00v3.00M434.50,254.00v3.00M435.50,254.00v3.00M437.50,254.00v3.00M438.50,254.00v3.00M439.50,254.00v3.00M440.20,254.00v3.00M449.50,254.00v3.00M450.50,254.00v3.00M452.00,254.00v3.00M453.00,254.00v3.00M454.00,254.00v3.00M455.50,254.00v3.00M456.50,254.00v3.00M457.80,254.00v3.00M458.50,254.00v3.00M459.50,254.00v3.00M461.00,254.00v3.00M462.00,254.00v3.00M463.00,254.00v3.00M464.00,254.00v3.00M465.00,254.00v3.00M468.00,254.00v3.00M469.00,254.00v3.00M471.00,254.00v3.00M473.00,254.00v3.00M474.00,254.00v3.00M475.20,254.00v3.00M478.80,254.00v3.00M480.00,254.00v3.00M481.20,254.00v3.00M482.40,254.00v3.00M483.40,254.00v3.00M493.80,254.00v3.00M494.60,254.00v3.00M495.60,254.00v3.00M501.60,254.00v3.00M502.80,254.00v3.00M505.40,254.00v3.00M517.20,254.00v3.00M529.20,254.00v3.00" stroke="#333" stroke-width="0.80" fill="none"/>
<path d="M326.60,174.12 L327.60,174.24 L328.59,174.35 L329.59,174.47 L330.58,174.59 L331.58,174.70 L332.57,174.82 L333.57,174.93 L334.56,175.05 L335.56,175.16 L336.55,175.28 L337.55,175.39 L338.54,175.50 L339.54,175.62 L340.53,175.73 L341.53,175.85 L342.52,175.96 L343.52,176.07 L344.51,176.19 L345.51,176.30 L346.50,176.42 L347.50,176.53 L348.49,176.65 L349.49,176.76 L350.48,176.88 L351.48,176.99 L352.47,177.11 L353.47,177.23 L354.46,177.34 L355.46,177.46 L356.45,177.58 L357.45,177.70 L358.44,177.82 L359.44,177.94 L360.43,178.06 L361.43,178.18 L362.42,178.30 L363.42,178.43 L364.41,178.55 L365.41,178.68 L366.40,178.81 L367.40,178.93 L368.39,179.06 L369.39,179.19 L370.38,179.32 L371.38,179.45 L372.37,179.59 L373.37,179.72 L374.36,179.86 L375.36,179.99 L376.35,180.13 L377.35,180.27 L378.35,180.41 L379.34,180.56 L380.34,180.70 L381.33,180.85 L382.33,181.00 L383.32,181.15 L384.32,181.30 L385.31,181.45 L386.31,181.60 L387.30,181.76 L388.30,181.92 L389.29,182.08 L390.29,182.24 L391.28,182.40 L392.28,182.57 L393.27,182.74 L394.27,182.91 L395.26,183.08 L396.26,183.26 L397.25,183.43 L398.25,183.61 L399.24,183.79 L400.24,183.98 L401.23,184.16 L402.23,184.35 L403.22,184.54 L404.22,184.73 L405.21,184.93 L406.21,185.13 L407.20,185.33 L408.20,185.53 L409.19,185.74 L410.19,185.95 L411.18,186.16 L412.18,186.37 L413.17,186.59 L414.17,186.81 L415.16,187.03 L416.16,187.26 L417.15,187.48 L418.15,187.71 L419.14,187.95 L420.14,188.18 L421.13,188.42 L422.13,188.66 L423.12,188.90 L424.12,189.15 L425.11,189.40 L426.11,189.65 L427.10,189.90 L428.10,190.15 L429.10,190.41 L430.09,190.67 L431.09,190.93 L432.08,191.19 L433.08,191.46 L434.07,191.72 L435.07,191.99 L436.06,192.27 L437.06,192.54 L438.05,192.82 L439.05,193.09 L440.04,193.37 L441.04,193.66 L442.03,193.94 L443.03,194.22 L444.02,194.51 L445.02,194.80 L446.01,195.09 L447.01,195.38 L448.00,195.68 L449.00,195.97 L449.99,196.27 L450.99,196.57 L451.98,196.87 L452.98,197.18 L453.97,197.48 L454.97,197.79 L455.96,198.09 L456.96,198.40 L457.95,198.71 L458.95,199.02 L459.94,199.34 L460.94,199.65 L461.93,199.97 L462.93,200.28 L463.92,200.60 L464.92,200.92 L465.91,201.24 L466.91,201.57 L467.90,201.89 L468.90,202.21 L469.89,202.54 L470.89,202.87 L471.88,203.19 L472.88,203.52 L473.87,203.85 L474.87,204.18 L475.86,204.52 L476.86,204.85 L477.85,205.18 L478.85,205.52 L479.85,205.85 L480.84,206.19 L481.84,206.53 L482.83,206.86 L483.83,207.20 L484.82,207.54 L485.82,207.88 L486.81,208.22 L487.81,208.56 L488.80,208.90 L489.80,209.25 L490.79,209.59 L491.79,209.93 L492.78,210.28 L493.78,210.62 L494.77,210.97 L495.77,211.31 L496.76,211.66 L497.76,212.00 L498.75,212.35 L499.75,212.70 L500.74,213.04 L501.74,213.39 L502.73,213.74 L503.73,214.08 L504.72,214.43 L505.72,214.78 L506.71,215.13 L507.71,215.48 L508.70,215.82 L509.70,216.17 L510.69,216.52 L511.69,216.87 L512.68,217.22 L513.68,217.56 L514.67,217.91 L515.67,218.26 L516.66,218.61 L517.66,218.95 L518.65,219.30 L519.65,219.65 L520.64,219.99 L521.64,220.34 L522.63,220.68 L523.63,221.03 L524.62,221.37 L525.62,221.72 L526.61,222.06 L527.61,222.41 L528.60,222.75 L529.60,223.09" fill="none" stroke="#646464" stroke-width="1.30"/>
<path d="M326.60,158.18 L327.60,158.50 L328.59,158.83 L329.59,159.16 L330.58,159.50 L331.58,159.84 L332.57,160.19 L333.57,160.54 L334.56,160.90 L335.56,161.27 L336.55,161.63 L337.55,162.00 L338.54,162.38 L339.54,162.75 L340.53,163.13 L341.53,163.51 L342.52,163.90 L343.52,164.28 L344.51,164.66 L345.51,165.05 L346.50,165.43 L347.50,165.81 L348.49,166.20 L349.49,166.58 L350.48,166.96 L351.48,167.34 L352.47,167.71 L353.47,168.08 L354.46,168.45 L355.46,168.82 L356.45,169.18 L357.45,169.54 L358.44,169.90 L359.44,170.25 L360.43,170.60 L361.43,170.94 L362.42,171.28 L363.42,171.61 L364.41,171.94 L365.41,172.27 L366.40,172.58 L367.40,172.89 L368.39,173.20 L369.39,173.50 L370.38,173.79 L371.38,174.08 L372.37,174.36 L373.37,174.63 L374.36,174.89 L375.36,175.15 L376.35,175.40 L377.35,175.64 L378.35,175.87 L379.34,176.10 L380.34,176.32 L381.33,176.53 L382.33,176.74 L383.32,176.94 L384.32,177.13 L385.31,177.32 L386.31,177.51 L387.30,177.69 L388.30,177.86 L389.29,178.03 L390.29,178.19 L391.28,178.36 L392.28,178.51 L393.27,178.67 L394.27,178.82 L395.26,178.96 L396.26,179.10 L397.25,179.25 L398.25,179.38 L399.24,179.52 L400.24,179.65 L401.23,179.79 L402.23,179.92 L403.22,180.05 L404.22,180.17 L405.21,180.30 L406.21,180.43 L407.20,180.55 L408.20,180.68 L409.19,180.81 L410.19,180.93 L411.18,181.06 L412.18,181.19 L413.17,181.32 L414.17,181.44 L415.16,181.57 L416.16,181.70 L417.15,181.83 L418.15,181.96 L419.14,182.09 L420.14,182.23 L421.13,182.36 L422.13,182.49 L423.12,182.62 L424.12,182.75 L425.11,182.89 L426.11,183.02 L427.10,183.15 L428.10,183.29 L429.10,183.42 L430.09,183.55 L431.09,183.69 L432.08,183.82 L433.08,183.95 L434.07,184.09 L435.07,184.22 L436.06,184.35 L437.06,184.49 L438.05,184.62 L439.05,184.75 L440.04,184.89 L441.04,185.02 L442.03,185.15 L443.03,185.28 L444.02,185.42 L445.02,185.55 L446.01,185.68 L447.01,185.81 L448.00,185.94 L449.00,186.07 L449.99,186.20 L450.99,186.33 L451.98,186.46 L452.98,186.58 L453.97,186.71 L454.97,186.84 L455.96,186.97 L456.96,187.09 L457.95,187.22 L458.95,187.34 L459.94,187.46 L460.94,187.59 L461.93,187.71 L462.93,187.83 L463.92,187.95 L464.92,188.07 L465.91,188.19 L466.91,188.31 L467.90,188.42 L468.90,188.54 L469.89,188.65 L470.89,188.77 L471.88,188.88 L472.88,188.99 L473.87,189.10 L474.87,189.21 L475.86,189.32 L476.86,189.43 L477.85,189.53 L478.85,189.64 L479.85,189.74 L480.84,189.84 L481.84,189.94 L482.83,190.04 L483.83,190.14 L484.82,190.24 L485.82,190.33 L486.81,190.43 L487.81,190.52 L488.80,190.61 L489.80,190.70 L490.79,190.79 L491.79,190.87 L492.78,190.96 L493.78,191.04 L494.77,191.12 L495.77,191.20 L496.76,191.28 L497.76,191.36 L498.75,191.43 L499.75,191.50 L500.74,191.57 L501.74,191.64 L502.73,191.71 L503.73,191.77 L504.72,191.84 L505.72,191.90 L506.71,191.96 L507.71,192.01 L508.70,192.07 L509.70,192.12 L510.69,192.17 L511.69,192.22 L512.68,192.27 L513.68,192.31 L514.67,192.35 L515.67,192.39 L516.66,192.43 L517.66,192.47 L518.65,192.50 L519.65,192.53 L520.64,192.56 L521.64,192.58 L522.63,192.61 L523.63,192.63 L524.62,192.65 L525.62,192.66 L526.61,192.68 L527.61,192.69 L528.60,192.69 L529.60,192.70" fill="none" stroke="#707070" stroke-width="1.25" stroke-dasharray="2 2"/>
<path d="M326.60,189.81 L327.60,189.60 L328.59,189.40 L329.59,189.20 L330.58,189.01 L331.58,188.82 L332.57,188.63 L333.57,188.45 L334.56,188.27 L335.56,188.10 L336.55,187.94 L337.55,187.77 L338.54,187.62 L339.54,187.46 L340.53,187.32 L341.53,187.17 L342.52,187.03 L343.52,186.90 L344.51,186.77 L345.51,186.65 L346.50,186.53 L347.50,186.42 L348.49,186.31 L349.49,186.21 L350.48,186.11 L351.48,186.01 L352.47,185.93 L353.47,185.84 L354.46,185.77 L355.46,185.69 L356.45,185.63 L357.45,185.57 L358.44,185.51 L359.44,185.46 L360.43,185.42 L361.43,185.38 L362.42,185.34 L363.42,185.32 L364.41,185.29 L365.41,185.28 L366.40,185.27 L367.40,185.26 L368.39,185.26 L369.39,185.27 L370.38,185.28 L371.38,185.30 L372.37,185.32 L373.37,185.35 L374.36,185.39 L375.36,185.43 L376.35,185.48 L377.35,185.53 L378.35,185.59 L379.34,185.66 L380.34,185.73 L381.33,185.81 L382.33,185.90 L383.32,185.99 L384.32,186.09 L385.31,186.19 L386.31,186.30 L387.30,186.42 L388.30,186.54 L389.29,186.67 L390.29,186.81 L391.28,186.96 L392.28,187.11 L393.27,187.26 L394.27,187.43 L395.26,187.60 L396.26,187.77 L397.25,187.96 L398.25,188.15 L399.24,188.35 L400.24,188.55 L401.23,188.77 L402.23,188.98 L403.22,189.21 L404.22,189.44 L405.21,189.68 L406.21,189.93 L407.20,190.19 L408.20,190.45 L409.19,190.72 L410.19,190.99 L411.18,191.28 L412.18,191.57 L413.17,191.87 L414.17,192.17 L415.16,192.48 L416.16,192.80 L417.15,193.13 L418.15,193.46 L419.14,193.80 L420.14,194.14 L421.13,194.49 L422.13,194.85 L423.12,195.21 L424.12,195.58 L425.11,195.96 L426.11,196.34 L427.10,196.72 L428.10,197.11 L429.10,197.51 L430.09,197.91 L431.09,198.31 L432.08,198.73 L433.08,199.14 L434.07,199.56 L435.07,199.99 L436.06,200.41 L437.06,200.85 L438.05,201.28 L439.05,201.72 L440.04,202.17 L441.04,202.62 L442.03,203.07 L443.03,203.53 L444.02,203.99 L445.02,204.45 L446.01,204.91 L447.01,205.38 L448.00,205.85 L449.00,206.33 L449.99,206.81 L450.99,207.29 L451.98,207.77 L452.98,208.25 L453.97,208.74 L454.97,209.23 L455.96,209.72 L456.96,210.21 L457.95,210.71 L458.95,211.21 L459.94,211.71 L460.94,212.21 L461.93,212.72 L462.93,213.22 L463.92,213.73 L464.92,214.24 L465.91,214.75 L466.91,215.27 L467.90,215.78 L468.90,216.30 L469.89,216.82 L470.89,217.34 L471.88,217.86 L472.88,218.38 L473.87,218.91 L474.87,219.43 L475.86,219.96 L476.86,220.49 L477.85,221.02 L478.85,221.55 L479.85,222.09 L480.84,222.62 L481.84,223.16 L482.83,223.70 L483.83,224.24 L484.82,224.79 L485.82,225.33 L486.81,225.88 L487.81,226.43 L488.80,226.99 L489.80,227.54 L490.79,228.10 L491.79,228.66 L492.78,229.22 L493.78,229.79 L494.77,230.36 L495.77,230.93 L496.76,231.51 L497.76,232.08 L498.75,232.67 L499.75,233.25 L500.74,233.84 L501.74,234.43 L502.73,235.02 L503.73,235.62 L504.72,236.22 L505.72,236.82 L506.71,237.43 L507.71,238.04 L508.70,238.66 L509.70,239.28 L510.69,239.90 L511.69,240.53 L512.68,241.16 L513.68,241.79 L514.67,242.43 L515.67,243.08 L516.66,243.72 L517.66,244.38 L518.65,245.03 L519.65,245.69 L520.64,246.36 L521.64,247.03 L522.63,247.70 L523.63,248.38 L524.62,249.07 L525.62,249.76 L526.61,250.45 L527.61,251.15 L528.60,251.86 L529.60,252.57" fill="none" stroke="#707070" stroke-width="1.25" stroke-dasharray="2 2"/>
<text x="287.60" y="205.20" transform="rotate(-90 287.60 205.20)" text-anchor="middle" font-size="8.00" fill="#222">s(CV,1.65)</text>
<text class="c" x="404.00" y="293.30" font-size="9.30" fill="#444">(d)</text>
<text x="422.60" y="294.20" font-size="8.00" fill="#222">CV</text>
<rect x="42.50" y="306.60" width="217.90" height="101.50" fill="none" stroke="#5a5a5a" stroke-width="1.30"/>
<line x1="38.00" y1="311.44" x2="42.50" y2="311.44" stroke="#5a5a5a" stroke-width="1"/>
<line x1="38.00" y1="324.58" x2="42.50" y2="324.58" stroke="#5a5a5a" stroke-width="1"/>
<text x="31.80" y="324.58" transform="rotate(-90 31.80 324.58)" text-anchor="middle" font-size="8.00" fill="#222">30</text>
<line x1="38.00" y1="337.72" x2="42.50" y2="337.72" stroke="#5a5a5a" stroke-width="1"/>
<line x1="38.00" y1="350.86" x2="42.50" y2="350.86" stroke="#5a5a5a" stroke-width="1"/>
<text x="31.80" y="350.86" transform="rotate(-90 31.80 350.86)" text-anchor="middle" font-size="8.00" fill="#222">10</text>
<line x1="38.00" y1="364.00" x2="42.50" y2="364.00" stroke="#5a5a5a" stroke-width="1"/>
<line x1="38.00" y1="377.14" x2="42.50" y2="377.14" stroke="#5a5a5a" stroke-width="1"/>
<text x="31.80" y="377.14" transform="rotate(-90 31.80 377.14)" text-anchor="middle" font-size="8.00" fill="#222">&#8722;10</text>
<line x1="38.00" y1="390.28" x2="42.50" y2="390.28" stroke="#5a5a5a" stroke-width="1"/>
<line x1="38.00" y1="403.42" x2="42.50" y2="403.42" stroke="#5a5a5a" stroke-width="1"/>
<text x="31.80" y="403.42" transform="rotate(-90 31.80 403.42)" text-anchor="middle" font-size="8.00" fill="#222">&#8722;30</text>
<line x1="50.50" y1="408.10" x2="50.50" y2="412.60" stroke="#5a5a5a" stroke-width="1"/>
<text x="50.50" y="425.90" text-anchor="middle" font-size="8.00" fill="#222">129</text>
<line x1="100.77" y1="408.10" x2="100.77" y2="412.60" stroke="#5a5a5a" stroke-width="1"/>
<text x="100.77" y="425.90" text-anchor="middle" font-size="8.00" fill="#222">130</text>
<line x1="151.04" y1="408.10" x2="151.04" y2="412.60" stroke="#5a5a5a" stroke-width="1"/>
<text x="151.04" y="425.90" text-anchor="middle" font-size="8.00" fill="#222">131</text>
<line x1="201.31" y1="408.10" x2="201.31" y2="412.60" stroke="#5a5a5a" stroke-width="1"/>
<text x="201.31" y="425.90" text-anchor="middle" font-size="8.00" fill="#222">132</text>
<line x1="251.58" y1="408.10" x2="251.58" y2="412.60" stroke="#5a5a5a" stroke-width="1"/>
<text x="251.58" y="425.90" text-anchor="middle" font-size="8.00" fill="#222">133</text>
<path d="M50.50,405.10v3.00" stroke="#333" stroke-width="1" fill="none"/>
<path d="M100.77,405.10v3.00M151.04,405.10v3.00M201.31,405.10v3.00M251.58,405.10v3.00" stroke="#111" stroke-width="1.80" fill="none"/>
<path d="M50.50,349.27 L51.50,349.86 L52.50,350.38 L53.50,350.84 L54.49,351.24 L55.49,351.59 L56.49,351.89 L57.49,352.13 L58.49,352.34 L59.49,352.50 L60.49,352.63 L61.48,352.72 L62.48,352.78 L63.48,352.82 L64.48,352.84 L65.48,352.84 L66.48,352.82 L67.47,352.80 L68.47,352.76 L69.47,352.73 L70.47,352.69 L71.47,352.66 L72.47,352.64 L73.47,352.63 L74.46,352.64 L75.46,352.66 L76.46,352.71 L77.46,352.79 L78.46,352.89 L79.46,353.02 L80.46,353.19 L81.45,353.39 L82.45,353.62 L83.45,353.89 L84.45,354.20 L85.45,354.55 L86.45,354.95 L87.45,355.39 L88.44,355.88 L89.44,356.42 L90.44,357.00 L91.44,357.64 L92.44,358.34 L93.44,359.09 L94.43,359.90 L95.43,360.77 L96.43,361.71 L97.43,362.69 L98.43,363.70 L99.43,364.73 L100.43,365.75 L101.42,366.75 L102.42,367.71 L103.42,368.61 L104.42,369.43 L105.42,370.16 L106.42,370.81 L107.42,371.37 L108.41,371.85 L109.41,372.26 L110.41,372.58 L111.41,372.84 L112.41,373.02 L113.41,373.14 L114.40,373.20 L115.40,373.19 L116.40,373.13 L117.40,373.02 L118.40,372.85 L119.40,372.64 L120.40,372.38 L121.39,372.08 L122.39,371.73 L123.39,371.36 L124.39,370.95 L125.39,370.51 L126.39,370.04 L127.39,369.55 L128.38,369.04 L129.38,368.52 L130.38,367.98 L131.38,367.44 L132.38,366.89 L133.38,366.34 L134.38,365.80 L135.37,365.26 L136.37,364.74 L137.37,364.23 L138.37,363.74 L139.37,363.27 L140.37,362.83 L141.36,362.42 L142.36,362.04 L143.36,361.71 L144.36,361.41 L145.36,361.16 L146.36,360.96 L147.36,360.82 L148.35,360.73 L149.35,360.71 L150.35,360.75 L151.35,360.86 L152.35,361.04 L153.35,361.29 L154.35,361.61 L155.34,361.98 L156.34,362.39 L157.34,362.86 L158.34,363.35 L159.34,363.88 L160.34,364.43 L161.34,365.00 L162.33,365.58 L163.33,366.16 L164.33,366.74 L165.33,367.32 L166.33,367.88 L167.33,368.42 L168.32,368.93 L169.32,369.41 L170.32,369.85 L171.32,370.27 L172.32,370.65 L173.32,371.01 L174.32,371.32 L175.31,371.61 L176.31,371.87 L177.31,372.09 L178.31,372.28 L179.31,372.43 L180.31,372.56 L181.31,372.65 L182.30,372.70 L183.30,372.72 L184.30,372.70 L185.30,372.64 L186.30,372.53 L187.30,372.37 L188.30,372.17 L189.29,371.91 L190.29,371.59 L191.29,371.22 L192.29,370.78 L193.29,370.28 L194.29,369.71 L195.28,369.08 L196.28,368.39 L197.28,367.65 L198.28,366.87 L199.28,366.06 L200.28,365.23 L201.28,364.38 L202.27,363.53 L203.27,362.68 L204.27,361.84 L205.27,361.02 L206.27,360.21 L207.27,359.44 L208.27,358.69 L209.26,357.98 L210.26,357.32 L211.26,356.70 L212.26,356.14 L213.26,355.64 L214.26,355.20 L215.25,354.82 L216.25,354.49 L217.25,354.23 L218.25,354.01 L219.25,353.86 L220.25,353.75 L221.25,353.70 L222.24,353.69 L223.24,353.73 L224.24,353.81 L225.24,353.94 L226.24,354.11 L227.24,354.32 L228.24,354.57 L229.23,354.86 L230.23,355.19 L231.23,355.55 L232.23,355.95 L233.23,356.39 L234.23,356.86 L235.23,357.36 L236.22,357.90 L237.22,358.47 L238.22,359.07 L239.22,359.70 L240.22,360.36 L241.22,361.05 L242.21,361.76 L243.21,362.50 L244.21,363.27 L245.21,364.07 L246.21,364.89 L247.21,365.73 L248.21,366.59 L249.20,367.48 L250.20,368.38 L251.20,369.31 L252.20,370.26" fill="none" stroke="#646464" stroke-width="1.30"/>
<path d="M50.50,342.73 L51.50,338.61 L52.50,334.88 L53.50,331.52 L54.49,328.50 L55.49,325.80 L56.49,323.41 L57.49,321.28 L58.49,319.40 L59.49,317.75 L60.49,316.29 L61.48,315.01 L62.48,313.89 L63.48,312.93 L64.48,312.12 L65.48,311.46 L66.48,310.93 L67.47,310.53 L68.47,310.25 L69.47,310.09 L70.47,310.04 L71.47,310.10 L72.47,310.25 L73.47,310.49 L74.46,310.82 L75.46,311.22 L76.46,311.71 L77.46,312.40 L78.46,313.41 L79.46,314.78 L80.46,316.39 L81.45,318.11 L82.45,319.86 L83.45,321.60 L84.45,323.34 L85.45,325.10 L86.45,326.87 L87.45,328.67 L88.44,330.50 L89.44,332.38 L90.44,334.30 L91.44,336.30 L92.44,338.40 L93.44,340.64 L94.43,343.05 L95.43,345.66 L96.43,348.52 L97.43,351.65 L98.43,355.08 L99.43,358.85 L100.43,362.88 L101.42,367.07 L102.42,371.30 L103.42,375.47 L104.42,379.48 L105.42,383.22 L106.42,386.58 L107.42,389.52 L108.41,392.06 L109.41,394.26 L110.41,396.13 L111.41,397.71 L112.41,399.05 L113.41,400.17 L114.40,401.11 L115.40,401.91 L116.40,402.57 L117.40,403.09 L118.40,403.48 L119.40,403.75 L120.40,403.90 L121.39,403.92 L122.39,403.84 L123.39,403.63 L124.39,403.33 L125.39,402.91 L126.39,402.40 L127.39,401.79 L128.38,401.08 L129.38,400.29 L130.38,399.41 L131.38,398.44 L132.38,397.38 L133.38,396.21 L134.38,394.94 L135.37,393.55 L136.37,392.04 L137.37,390.39 L138.37,388.61 L139.37,386.68 L140.37,384.60 L141.36,382.35 L142.36,379.94 L143.36,377.38 L144.36,374.79 L145.36,372.30 L146.36,370.03 L147.36,367.98 L148.35,365.99 L149.35,363.89 L150.35,361.54 L151.35,359.01 L152.35,356.41 L153.35,353.86 L154.35,351.46 L155.34,349.32 L156.34,347.42 L157.34,345.77 L158.34,344.34 L159.34,343.11 L160.34,342.07 L161.34,341.21 L162.33,340.51 L163.33,339.96 L164.33,339.53 L165.33,339.21 L166.33,339.00 L167.33,338.86 L168.32,338.80 L169.32,338.80 L170.32,338.87 L171.32,339.00 L172.32,339.19 L173.32,339.44 L174.32,339.74 L175.31,340.09 L176.31,340.50 L177.31,340.95 L178.31,341.45 L179.31,342.00 L180.31,342.58 L181.31,343.21 L182.30,343.87 L183.30,344.56 L184.30,345.29 L185.30,346.04 L186.30,346.82 L187.30,347.63 L188.30,348.45 L189.29,349.29 L190.29,350.15 L191.29,351.04 L192.29,351.97 L193.29,352.95 L194.29,354.00 L195.28,355.13 L196.28,356.36 L197.28,357.69 L198.28,359.14 L199.28,360.75 L200.28,362.63 L201.28,364.92 L202.27,367.44 L203.27,369.76 L204.27,371.77 L205.27,373.50 L206.27,375.00 L207.27,376.29 L208.27,377.42 L209.26,378.43 L210.26,379.35 L211.26,380.22 L212.26,381.08 L213.26,381.96 L214.26,382.86 L215.25,383.77 L216.25,384.69 L217.25,385.61 L218.25,386.52 L219.25,387.41 L220.25,388.28 L221.25,389.11 L222.24,389.90 L223.24,390.64 L224.24,391.33 L225.24,391.95 L226.24,392.50 L227.24,392.97 L228.24,393.36 L229.23,393.65 L230.23,393.86 L231.23,393.97 L232.23,393.98 L233.23,393.90 L234.23,393.73 L235.23,393.45 L236.22,393.08 L237.22,392.61 L238.22,392.04 L239.22,391.36 L240.22,390.58 L241.22,389.70 L242.21,388.70 L243.21,387.61 L244.21,386.40 L245.21,385.08 L246.21,383.66 L247.21,382.12 L248.21,380.46 L249.20,378.69 L250.20,376.81 L251.20,374.81 L252.20,372.69" fill="none" stroke="#707070" stroke-width="1.25" stroke-dasharray="2 2"/>
<path d="M50.50,356.23 L51.50,359.21 L52.49,362.30 L53.49,365.45 L54.49,368.61 L55.49,371.73 L56.48,374.78 L57.48,377.69 L58.48,380.44 L59.47,382.97 L60.47,385.24 L61.47,387.26 L62.46,389.04 L63.46,390.59 L64.46,391.92 L65.46,393.04 L66.45,393.96 L67.45,394.69 L68.45,395.23 L69.44,395.60 L70.44,395.82 L71.44,395.88 L72.43,395.80 L73.43,395.59 L74.43,395.25 L75.43,394.81 L76.42,394.26 L77.42,393.61 L78.42,392.89 L79.41,392.08 L80.41,391.21 L81.41,390.28 L82.41,389.30 L83.40,388.27 L84.40,387.22 L85.40,386.14 L86.39,385.05 L87.39,383.96 L88.39,382.86 L89.38,381.78 L90.38,380.70 L91.38,379.60 L92.38,378.47 L93.37,377.29 L94.37,376.03 L95.37,374.68 L96.36,373.23 L97.36,371.65 L98.36,369.94 L99.36,368.12 L100.35,366.25 L101.35,364.34 L102.35,362.44 L103.34,360.57 L104.34,358.75 L105.34,356.96 L106.33,355.23 L107.33,353.54 L108.33,351.92 L109.33,350.35 L110.32,348.85 L111.32,347.41 L112.32,346.05 L113.31,344.77 L114.31,343.57 L115.31,342.45 L116.30,341.40 L117.30,340.43 L118.30,339.54 L119.30,338.72 L120.29,337.97 L121.29,337.29 L122.29,336.68 L123.28,336.14 L124.28,335.67 L125.28,335.26 L126.28,334.92 L127.27,334.63 L128.27,334.42 L129.27,334.26 L130.26,334.15 L131.26,334.11 L132.26,334.12 L133.25,334.19 L134.25,334.32 L135.25,334.55 L136.25,334.90 L137.24,335.39 L138.24,336.06 L139.24,336.92 L140.23,338.01 L141.23,339.34 L142.23,340.89 L143.23,342.60 L144.22,344.43 L145.22,346.35 L146.22,348.32 L147.21,350.28 L148.21,352.24 L149.21,354.30 L150.20,356.63 L151.20,359.41 L152.20,362.70 L153.20,366.20 L154.19,369.44 L155.19,372.30 L156.19,374.91 L157.18,377.38 L158.18,379.78 L159.18,382.08 L160.17,384.29 L161.17,386.40 L162.17,388.40 L163.17,390.30 L164.16,392.07 L165.16,393.73 L166.16,395.26 L167.15,396.66 L168.15,397.93 L169.15,399.05 L170.15,400.02 L171.14,400.84 L172.14,401.52 L173.14,402.05 L174.13,402.44 L175.13,402.71 L176.13,402.84 L177.12,402.86 L178.12,402.76 L179.12,402.56 L180.12,402.25 L181.11,401.85 L182.11,401.35 L183.11,400.77 L184.10,400.11 L185.10,399.37 L186.10,398.57 L187.10,397.70 L188.09,396.77 L189.09,395.75 L190.09,394.58 L191.08,393.22 L192.08,391.62 L193.08,389.74 L194.07,387.52 L195.07,384.92 L196.07,381.95 L197.07,378.65 L198.06,375.04 L199.06,371.16 L200.06,367.06 L201.05,362.95 L202.05,359.00 L203.05,355.40 L204.04,352.14 L205.04,349.16 L206.04,346.39 L207.04,343.77 L208.03,341.25 L209.03,338.84 L210.03,336.53 L211.02,334.34 L212.02,332.26 L213.02,330.29 L214.02,328.44 L215.01,326.70 L216.01,325.09 L217.01,323.60 L218.00,322.24 L219.00,321.00 L220.00,319.89 L220.99,318.92 L221.99,318.08 L222.99,317.38 L223.99,316.81 L224.98,316.39 L225.98,316.11 L226.98,315.98 L227.97,316.00 L228.97,316.16 L229.97,316.48 L230.97,316.95 L231.96,317.58 L232.96,318.38 L233.96,319.33 L234.95,320.44 L235.95,321.73 L236.95,323.18 L237.94,324.80 L238.94,326.59 L239.94,328.56 L240.94,330.71 L241.93,333.03 L242.93,335.54 L243.93,338.22 L244.92,341.09 L245.92,344.14 L246.92,347.38 L247.91,350.80 L248.91,354.42 L249.91,358.21 L250.91,362.04 L251.90,365.60 L252.90,368.58" fill="none" stroke="#707070" stroke-width="1.25" stroke-dasharray="2 2"/>
<text x="11.40" y="357.40" transform="rotate(-90 11.40 357.40)" text-anchor="middle" font-size="8.00" fill="#222">s(lon,4.84)</text>
<text class="c" x="129.00" y="443.80" font-size="9.30" fill="#444">(e)</text>
<text x="146.00" y="444.60" font-size="8.00" fill="#222">lon</text>
<rect x="317.00" y="305.60" width="227.10" height="105.70" fill="none" stroke="#5a5a5a" stroke-width="1.30"/>
<line x1="312.50" y1="308.40" x2="317.00" y2="308.40" stroke="#5a5a5a" stroke-width="1"/>
<text x="305.30" y="308.40" transform="rotate(-90 305.30 308.40)" text-anchor="middle" font-size="8.00" fill="#222">20</text>
<line x1="312.50" y1="322.50" x2="317.00" y2="322.50" stroke="#5a5a5a" stroke-width="1"/>
<line x1="312.50" y1="336.60" x2="317.00" y2="336.60" stroke="#5a5a5a" stroke-width="1"/>
<text x="305.30" y="336.60" transform="rotate(-90 305.30 336.60)" text-anchor="middle" font-size="8.00" fill="#222">10</text>
<line x1="312.50" y1="350.70" x2="317.00" y2="350.70" stroke="#5a5a5a" stroke-width="1"/>
<text x="305.30" y="350.70" transform="rotate(-90 305.30 350.70)" text-anchor="middle" font-size="8.00" fill="#222">5</text>
<line x1="312.50" y1="364.80" x2="317.00" y2="364.80" stroke="#5a5a5a" stroke-width="1"/>
<text x="305.30" y="364.80" transform="rotate(-90 305.30 364.80)" text-anchor="middle" font-size="8.00" fill="#222">0</text>
<line x1="312.50" y1="378.90" x2="317.00" y2="378.90" stroke="#5a5a5a" stroke-width="1"/>
<text x="305.30" y="378.90" transform="rotate(-90 305.30 378.90)" text-anchor="middle" font-size="8.00" fill="#222">&#8722;5</text>
<line x1="312.50" y1="393.00" x2="317.00" y2="393.00" stroke="#5a5a5a" stroke-width="1"/>
<line x1="312.50" y1="407.10" x2="317.00" y2="407.10" stroke="#5a5a5a" stroke-width="1"/>
<text x="305.30" y="407.10" transform="rotate(-90 305.30 407.10)" text-anchor="middle" font-size="8.00" fill="#222">&#8722;15</text>
<line x1="351.40" y1="411.30" x2="351.40" y2="415.80" stroke="#5a5a5a" stroke-width="1"/>
<text x="351.40" y="429.50" text-anchor="middle" font-size="8.00" fill="#222">12</text>
<line x1="404.00" y1="411.30" x2="404.00" y2="415.80" stroke="#5a5a5a" stroke-width="1"/>
<text x="404.00" y="429.50" text-anchor="middle" font-size="8.00" fill="#222">14</text>
<line x1="456.60" y1="411.30" x2="456.60" y2="415.80" stroke="#5a5a5a" stroke-width="1"/>
<text x="456.60" y="429.50" text-anchor="middle" font-size="8.00" fill="#222">16</text>
<line x1="509.20" y1="411.30" x2="509.20" y2="415.80" stroke="#5a5a5a" stroke-width="1"/>
<text x="509.20" y="429.50" text-anchor="middle" font-size="8.00" fill="#222">18</text>
<path d="M325.10,409.30v2.00M351.40,409.30v2.00M377.70,409.30v2.00M385.59,409.30v2.00M404.00,409.30v2.00M430.30,409.30v2.00M456.60,409.30v2.00M482.90,409.30v2.00M509.20,409.30v2.00M535.50,409.30v2.00" stroke="#222" stroke-width="1.10" fill="none"/>
<path d="M325.10,372.43 L326.10,370.86 L327.10,369.27 L328.09,367.67 L329.09,366.08 L330.09,364.50 L331.09,362.95 L332.09,361.45 L333.08,360.00 L334.08,358.63 L335.08,357.34 L336.08,356.15 L337.08,355.07 L338.08,354.12 L339.07,353.31 L340.07,352.65 L341.07,352.15 L342.07,351.84 L343.07,351.72 L344.06,351.81 L345.06,352.10 L346.06,352.60 L347.06,353.30 L348.06,354.19 L349.05,355.28 L350.05,356.55 L351.05,357.99 L352.05,359.62 L353.05,361.42 L354.05,363.38 L355.04,365.50 L356.04,367.77 L357.04,370.14 L358.04,372.57 L359.04,375.00 L360.03,377.40 L361.03,379.73 L362.03,381.94 L363.03,384.02 L364.03,385.94 L365.02,387.65 L366.02,389.14 L367.02,390.36 L368.02,391.29 L369.02,391.90 L370.01,392.15 L371.01,392.02 L372.01,391.48 L373.01,390.48 L374.01,389.01 L375.01,387.00 L376.00,384.42 L377.00,381.21 L378.00,377.32 L379.00,372.70 L380.00,367.53 L380.99,362.12 L381.99,356.75 L382.99,351.58 L383.99,346.72 L384.99,342.29 L385.98,338.39 L386.98,335.13 L387.98,332.62 L388.98,330.91 L389.98,329.99 L390.97,329.86 L391.97,330.48 L392.97,331.86 L393.97,333.98 L394.97,336.78 L395.97,339.97 L396.96,343.23 L397.96,346.26 L398.96,349.04 L399.96,351.60 L400.96,353.98 L401.95,356.21 L402.95,358.32 L403.95,360.37 L404.95,362.36 L405.95,364.24 L406.94,365.95 L407.94,367.43 L408.94,368.65 L409.94,369.64 L410.94,370.41 L411.94,370.98 L412.93,371.35 L413.93,371.54 L414.93,371.58 L415.93,371.46 L416.93,371.21 L417.92,370.83 L418.92,370.33 L419.92,369.73 L420.92,369.04 L421.92,368.25 L422.91,367.40 L423.91,366.48 L424.91,365.51 L425.91,364.49 L426.91,363.44 L427.90,362.37 L428.90,361.29 L429.90,360.21 L430.90,359.14 L431.90,358.08 L432.90,357.06 L433.89,356.07 L434.89,355.13 L435.89,354.24 L436.89,353.41 L437.89,352.64 L438.88,351.94 L439.88,351.31 L440.88,350.77 L441.88,350.31 L442.88,349.94 L443.87,349.67 L444.87,349.50 L445.87,349.45 L446.87,349.51 L447.87,349.68 L448.86,349.97 L449.86,350.36 L450.86,350.86 L451.86,351.45 L452.86,352.13 L453.86,352.90 L454.85,353.76 L455.85,354.69 L456.85,355.70 L457.85,356.77 L458.85,357.91 L459.84,359.11 L460.84,360.36 L461.84,361.67 L462.84,363.02 L463.84,364.41 L464.83,365.83 L465.83,367.29 L466.83,368.76 L467.83,370.23 L468.83,371.68 L469.83,373.11 L470.82,374.50 L471.82,375.82 L472.82,377.08 L473.82,378.25 L474.82,379.33 L475.81,380.32 L476.81,381.21 L477.81,382.00 L478.81,382.69 L479.81,383.26 L480.80,383.72 L481.80,384.06 L482.80,384.27 L483.80,384.37 L484.80,384.32 L485.79,384.15 L486.79,383.84 L487.79,383.38 L488.79,382.77 L489.79,382.02 L490.79,381.11 L491.78,380.05 L492.78,378.87 L493.78,377.58 L494.78,376.20 L495.78,374.75 L496.77,373.26 L497.77,371.73 L498.77,370.19 L499.77,368.66 L500.77,367.15 L501.76,365.69 L502.76,364.30 L503.76,362.99 L504.76,361.78 L505.76,360.70 L506.75,359.76 L507.75,358.97 L508.75,358.34 L509.75,357.87 L510.75,357.53 L511.75,357.34 L512.74,357.27 L513.74,357.33 L514.74,357.51 L515.74,357.80 L516.74,358.19 L517.73,358.69 L518.73,359.28 L519.73,359.96 L520.73,360.72 L521.73,361.56 L522.72,362.46 L523.72,363.42 L524.72,364.45 L525.72,365.52 L526.72,366.64 L527.72,367.79 L528.71,368.98 L529.71,370.19 L530.71,371.42 L531.71,372.66 L532.71,373.91 L533.70,375.16 L534.70,376.41 L535.70,377.64" fill="none" stroke="#646464" stroke-width="1.30"/>
<path d="M325.10,352.21 L326.10,351.17 L327.09,350.23 L328.09,349.38 L329.08,348.60 L330.08,347.88 L331.08,347.21 L332.07,346.59 L333.07,345.99 L334.07,345.41 L335.06,344.83 L336.06,344.25 L337.05,343.65 L338.05,343.04 L339.05,342.44 L340.04,341.89 L341.04,341.45 L342.04,341.13 L343.03,341.00 L344.03,341.08 L345.02,341.39 L346.02,341.91 L347.02,342.62 L348.01,343.51 L349.01,344.57 L350.01,345.78 L351.00,347.13 L352.00,348.60 L352.99,350.18 L353.99,351.85 L354.99,353.60 L355.98,355.42 L356.98,357.29 L357.97,359.19 L358.97,361.12 L359.97,363.05 L360.96,364.98 L361.96,366.88 L362.96,368.75 L363.95,370.55 L364.95,372.26 L365.94,373.81 L366.94,375.18 L367.94,376.32 L368.93,377.18 L369.93,377.73 L370.93,377.90 L371.92,377.68 L372.92,377.00 L373.91,375.83 L374.91,374.12 L375.91,371.85 L376.90,369.03 L377.90,365.65 L378.90,361.73 L379.89,357.28 L380.89,352.31 L381.88,346.89 L382.88,341.21 L383.88,335.45 L384.87,329.80 L385.87,324.45 L386.86,319.58 L387.86,315.41 L388.86,312.28 L389.85,310.52 L390.85,310.44 L391.85,311.94 L392.84,314.54 L393.84,317.73 L394.83,321.04 L395.83,324.28 L396.83,327.49 L397.82,330.74 L398.82,334.09 L399.82,337.60 L400.81,341.23 L401.81,344.80 L402.80,348.12 L403.80,351.01 L404.80,353.30 L405.79,355.03 L406.79,356.30 L407.79,357.24 L408.78,357.95 L409.78,358.53 L410.77,359.01 L411.77,359.36 L412.77,359.60 L413.76,359.71 L414.76,359.69 L415.75,359.54 L416.75,359.28 L417.75,358.92 L418.74,358.46 L419.74,357.92 L420.74,357.30 L421.73,356.63 L422.73,355.90 L423.72,355.13 L424.72,354.33 L425.72,353.51 L426.71,352.68 L427.71,351.84 L428.71,351.02 L429.70,350.19 L430.70,349.39 L431.69,348.59 L432.69,347.82 L433.69,347.07 L434.68,346.35 L435.68,345.67 L436.68,345.03 L437.67,344.43 L438.67,343.87 L439.66,343.37 L440.66,342.92 L441.66,342.54 L442.65,342.22 L443.65,341.97 L444.65,341.80 L445.64,341.70 L446.64,341.69 L447.63,341.77 L448.63,341.94 L449.63,342.20 L450.62,342.57 L451.62,343.04 L452.61,343.62 L453.61,344.31 L454.61,345.10 L455.60,345.99 L456.60,346.96 L457.60,348.01 L458.59,349.14 L459.59,350.33 L460.58,351.59 L461.58,352.90 L462.58,354.26 L463.57,355.67 L464.57,357.11 L465.57,358.58 L466.56,360.07 L467.56,361.59 L468.55,363.11 L469.55,364.63 L470.55,366.15 L471.54,367.64 L472.54,369.07 L473.54,370.44 L474.53,371.71 L475.53,372.86 L476.52,373.86 L477.52,374.71 L478.52,375.37 L479.51,375.83 L480.51,376.11 L481.50,376.22 L482.50,376.18 L483.50,376.00 L484.49,375.70 L485.49,375.28 L486.49,374.78 L487.48,374.20 L488.48,373.56 L489.47,372.87 L490.47,372.15 L491.47,371.40 L492.46,370.59 L493.46,369.70 L494.46,368.70 L495.45,367.57 L496.45,366.26 L497.44,364.77 L498.44,363.12 L499.44,361.35 L500.43,359.51 L501.43,357.63 L502.43,355.76 L503.42,353.95 L504.42,352.23 L505.41,350.65 L506.41,349.25 L507.41,348.07 L508.40,347.13 L509.40,346.41 L510.39,345.89 L511.39,345.58 L512.39,345.45 L513.38,345.49 L514.38,345.70 L515.38,346.05 L516.37,346.54 L517.37,347.16 L518.36,347.88 L519.36,348.71 L520.36,349.62 L521.35,350.61 L522.35,351.67 L523.35,352.77 L524.34,353.91 L525.34,355.09 L526.33,356.27 L527.33,357.46 L528.33,358.64 L529.32,359.79 L530.32,360.91 L531.32,361.99 L532.31,363.01 L533.31,363.95 L534.30,364.82 L535.30,365.58" fill="none" stroke="#707070" stroke-width="1.25" stroke-dasharray="2 2"/>
<path d="M325.10,392.11 L326.10,389.17 L327.09,386.36 L328.09,383.70 L329.08,381.18 L330.08,378.81 L331.08,376.58 L332.07,374.52 L333.07,372.61 L334.07,370.86 L335.06,369.28 L336.06,367.87 L337.05,366.63 L338.05,365.56 L339.05,364.67 L340.04,363.96 L341.04,363.44 L342.04,363.11 L343.03,362.96 L344.03,363.02 L345.02,363.27 L346.02,363.72 L347.02,364.38 L348.01,365.24 L349.01,366.32 L350.01,367.61 L351.00,369.12 L352.00,370.85 L352.99,372.81 L353.99,374.99 L354.99,377.41 L355.98,380.03 L356.98,382.79 L357.97,385.64 L358.97,388.51 L359.97,391.35 L360.96,394.09 L361.96,396.67 L362.96,399.04 L363.95,401.13 L364.95,402.89 L365.94,404.32 L366.94,405.46 L367.94,406.34 L368.93,407.01 L369.93,407.41 L370.93,407.48 L371.92,407.12 L372.92,406.24 L373.91,404.76 L374.91,402.59 L375.91,399.73 L376.90,396.28 L377.90,392.37 L378.90,388.13 L379.89,383.68 L380.89,379.13 L381.88,374.63 L382.88,370.29 L383.88,366.23 L384.87,362.57 L385.87,359.36 L386.86,356.60 L387.86,354.30 L388.86,352.46 L389.85,351.10 L390.85,350.22 L391.85,349.83 L392.84,349.93 L393.84,350.50 L394.83,351.49 L395.83,352.83 L396.83,354.49 L397.82,356.39 L398.82,358.49 L399.82,360.73 L400.81,363.06 L401.81,365.42 L402.80,367.75 L403.80,370.01 L404.80,372.13 L405.79,374.07 L406.79,375.78 L407.79,377.26 L408.78,378.53 L409.78,379.58 L410.77,380.43 L411.77,381.09 L412.77,381.56 L413.76,381.86 L414.76,381.99 L415.75,381.96 L416.75,381.79 L417.75,381.47 L418.74,381.03 L419.74,380.47 L420.74,379.80 L421.73,379.03 L422.73,378.18 L423.72,377.24 L424.72,376.24 L425.72,375.18 L426.71,374.06 L427.71,372.91 L428.71,371.73 L429.70,370.54 L430.70,369.33 L431.69,368.12 L432.69,366.92 L433.69,365.75 L434.68,364.60 L435.68,363.50 L436.68,362.44 L437.67,361.45 L438.67,360.52 L439.66,359.68 L440.66,358.92 L441.66,358.26 L442.65,357.72 L443.65,357.29 L444.65,357.00 L445.64,356.84 L446.64,356.83 L447.63,356.97 L448.63,357.26 L449.63,357.69 L450.62,358.24 L451.62,358.91 L452.61,359.69 L453.61,360.57 L454.61,361.54 L455.60,362.60 L456.60,363.74 L457.60,364.94 L458.59,366.19 L459.59,367.50 L460.58,368.85 L461.58,370.23 L462.58,371.64 L463.57,373.06 L464.57,374.48 L465.57,375.91 L466.56,377.32 L467.56,378.72 L468.55,380.08 L469.55,381.41 L470.55,382.70 L471.54,383.93 L472.54,385.10 L473.54,386.19 L474.53,387.21 L475.53,388.15 L476.52,389.01 L477.52,389.78 L478.52,390.45 L479.51,391.02 L480.51,391.50 L481.50,391.87 L482.50,392.12 L483.50,392.27 L484.49,392.29 L485.49,392.19 L486.49,391.97 L487.48,391.61 L488.48,391.12 L489.47,390.49 L490.47,389.71 L491.47,388.79 L492.46,387.75 L493.46,386.61 L494.46,385.37 L495.45,384.07 L496.45,382.71 L497.44,381.32 L498.44,379.91 L499.44,378.50 L500.43,377.11 L501.43,375.77 L502.43,374.47 L503.42,373.25 L504.42,372.12 L505.41,371.10 L506.41,370.21 L507.41,369.46 L508.40,368.87 L509.40,368.41 L510.39,368.09 L511.39,367.90 L512.39,367.83 L513.38,367.89 L514.38,368.05 L515.38,368.32 L516.37,368.68 L517.37,369.14 L518.36,369.69 L519.36,370.32 L520.36,371.02 L521.35,371.78 L522.35,372.61 L523.35,373.50 L524.34,374.43 L525.34,375.41 L526.33,376.43 L527.33,377.47 L528.33,378.54 L529.32,379.63 L530.32,380.73 L531.32,381.83 L532.31,382.94 L533.31,384.03 L534.30,385.12 L535.30,386.18" fill="none" stroke="#707070" stroke-width="1.25" stroke-dasharray="2 2"/>
<text x="285.90" y="358.20" transform="rotate(-90 285.90 358.20)" text-anchor="middle" font-size="8.40" fill="#222">s(lat,9)</text>
<text class="c" x="411.30" y="450.30" font-size="9.30" fill="#444">(f)</text>
<text x="426.60" y="449.50" font-size="8.00" fill="#222">lat</text>
</svg>
</body></html>
